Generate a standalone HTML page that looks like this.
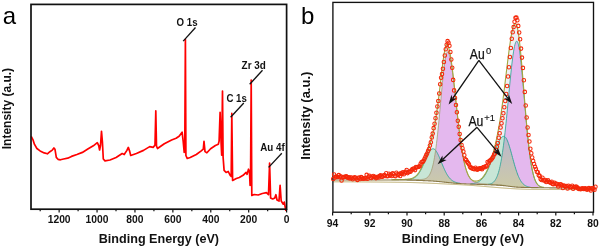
<!DOCTYPE html>
<html><head><meta charset="utf-8"><style>
html,body{margin:0;padding:0;background:#fff;width:600px;height:247px;overflow:hidden}
svg{display:block;will-change:transform}
text{font-family:"Liberation Sans",sans-serif}
</style></head><body>
<svg width="600" height="247" viewBox="0 0 600 247">
<!-- panel a -->
<text x="2.7" y="23.6" font-size="24">a</text>
<path d="M31.2,136.3 L32.9,139.6 L34.5,144.4 L36.9,148.5 L40.1,150.9 L44.2,152.9 L47.4,153.8 L49.9,151.7 L52.3,150.1 L53.9,148 L55,149.3 L56.3,157.4 L58,159.3 L60.4,159.8 L63.6,159 L67.7,158.2 L71.5,156.4 L76.9,154.5 L82.4,152.4 L87.8,149.1 L93.3,145.8 L97.3,142.7 L98.7,145.5 L99.6,150 L100.5,145.5 L101.5,131.3 L102.4,141.8 L103.3,159 L105,160.9 L110,160 L116.1,157.5 L122.2,153.5 L124.2,154.5 L126.9,150.4 L128.3,147.4 L129.7,151.4 L130.7,155.5 L136.4,153.5 L143.5,150.4 L149.7,146.6 L153.3,147.3 L155,144.9 L155.8,110.9 L156.5,146.1 L157.5,148.5 L164.3,143.7 L171.6,140 L176.1,138.3 L179.1,136.3 L182.1,132.2 L183.2,141.3 L184.2,152.4 L184.8,145.4 L185.4,39.5 L185.9,155.5 L187.2,158.5 L190.2,157.5 L196.3,154.5 L200.9,151.1 L203.3,149.1 L204,141.4 L205,151.6 L206.9,152.8 L210.6,148.7 L215.4,145.5 L218.3,144.3 L219.1,141.1 L220.1,112.4 L221.1,143.1 L221.7,155.2 L222.5,91.1 L223.1,157.3 L224.1,170.4 L226.1,172.4 L228.2,171.4 L230.2,175.5 L231.2,176.5 L231.8,113.4 L232.6,180.5 L236.3,178.5 L239.3,177.5 L243.1,175.3 L246.1,172.3 L247.1,174.3 L248.5,169.2 L249.5,172.3 L250.1,185.4 L250.6,172 L251.2,80.1 L251.8,195.5 L254.2,194.5 L258.2,195 L262.3,193.5 L266.4,192.6 L268.5,194.7 L269.6,163 L270.6,197.9 L272.7,199 L274.8,197.9 L275.9,194.7 L277,200 L279,201 L280.1,185.3 L281.2,201 L283.3,204.2 L284.3,202.1 L285.4,208.4 L286,211" fill="none" stroke="#f00" stroke-width="1.7" stroke-linejoin="round"/>
<rect x="31" y="4.4" width="255.6" height="204.8" fill="none" stroke="#111" stroke-width="1.7"/>
<g stroke="#111" stroke-width="1.2"><line x1="286.6" y1="209" x2="286.6" y2="212.6"/><line x1="267.65" y1="209" x2="267.65" y2="211.2"/><line x1="248.69" y1="209" x2="248.69" y2="212.6"/><line x1="229.74" y1="209" x2="229.74" y2="211.2"/><line x1="210.78" y1="209" x2="210.78" y2="212.6"/><line x1="191.83" y1="209" x2="191.83" y2="211.2"/><line x1="172.87" y1="209" x2="172.87" y2="212.6"/><line x1="153.92" y1="209" x2="153.92" y2="211.2"/><line x1="134.96" y1="209" x2="134.96" y2="212.6"/><line x1="116.01" y1="209" x2="116.01" y2="211.2"/><line x1="97.05" y1="209" x2="97.05" y2="212.6"/><line x1="78.1" y1="209" x2="78.1" y2="211.2"/><line x1="59.14" y1="209" x2="59.14" y2="212.6"/><line x1="40.19" y1="209" x2="40.19" y2="211.2"/></g>
<g font-size="10.3" font-weight="bold" text-anchor="middle" fill="#111"><text x="286.6" y="222.6">0</text><text x="248.69" y="222.6">200</text><text x="210.78" y="222.6">400</text><text x="172.87" y="222.6">600</text><text x="134.96" y="222.6">800</text><text x="97.05" y="222.6">1000</text><text x="59.14" y="222.6">1200</text></g>
<text x="158.9" y="243.3" font-size="12.6" font-weight="bold" text-anchor="middle" fill="#111">Binding Energy (eV)</text>
<text transform="translate(10.9,108.6) rotate(-90)" font-size="12" font-weight="bold" text-anchor="middle" fill="#111">Intensity (a.u.)</text>
<g font-size="10.2" font-weight="bold" fill="#111" lengthAdjust="spacingAndGlyphs">
<text x="176.6" y="26.4" textLength="21" lengthAdjust="spacingAndGlyphs">O 1s</text>
<text x="241.6" y="68.8" textLength="24.2" lengthAdjust="spacingAndGlyphs">Zr 3d</text>
<text x="226.4" y="102.4" textLength="20.4" lengthAdjust="spacingAndGlyphs">C 1s</text>
<text x="260.3" y="150.7" textLength="24.4" lengthAdjust="spacingAndGlyphs">Au 4f</text>
</g>
<g stroke="#111" stroke-width="1.3">
<line x1="183.2" y1="41.1" x2="195.5" y2="27.5"/>
<line x1="249.7" y1="84.3" x2="262.5" y2="70.3"/>
<line x1="230.6" y1="117.3" x2="243.8" y2="103"/>
<line x1="268.6" y1="167.4" x2="281.8" y2="153.3"/>
</g>
<!-- panel b -->
<text x="300.9" y="23.6" font-size="24">b</text>
<path d="M391.5,179.7 L392,179.69 L392.5,179.69 L393,179.68 L393.5,179.67 L394,179.67 L394.5,179.66 L395,179.65 L395.5,179.64 L396,179.64 L396.5,179.63 L397,179.62 L397.5,179.61 L398,179.6 L398.5,179.59 L399,179.58 L399.5,179.57 L400,179.56 L400.5,179.55 L401,179.54 L401.5,179.53 L402,179.51 L402.5,179.5 L403,179.48 L403.5,179.47 L404,179.45 L404.5,179.43 L405,179.41 L405.5,179.38 L406,179.35 L406.5,179.32 L407,179.28 L407.5,179.23 L408,179.17 L408.5,179.11 L409,179.04 L409.5,178.95 L410,178.86 L410.5,178.74 L411,178.61 L411.5,178.46 L412,178.29 L412.5,178.1 L413,177.88 L413.5,177.63 L414,177.35 L414.5,177.04 L415,176.68 L415.5,176.29 L416,175.86 L416.5,175.38 L417,174.85 L417.5,174.28 L418,173.65 L418.5,172.97 L419,172.24 L419.5,171.45 L420,170.6 L420.5,169.7 L421,168.74 L421.5,167.72 L422,166.66 L422.5,165.54 L423,164.37 L423.5,163.15 L424,161.89 L424.5,160.59 L425,159.25 L425.5,157.87 L426,156.46 L426.5,155.02 L427,153.54 L427.5,152.04 L428,150.51 L428.5,148.95 L429,147.35 L429.5,145.72 L430,144.04 L430.5,142.32 L431,140.53 L431.5,138.68 L432,136.76 L432.5,134.74 L433,132.62 L433.5,130.38 L434,128.01 L434.5,125.49 L435,122.81 L435.5,119.97 L436,116.94 L436.5,113.74 L437,110.34 L437.5,106.77 L438,103.02 L438.5,99.1 L439,95.05 L439.5,90.87 L440,86.6 L440.5,82.27 L441,77.94 L441.5,73.64 L442,69.42 L442.5,65.34 L443,61.46 L443.5,57.83 L444,54.53 L444.5,51.6 L445,49.1 L445.5,47.09 L446,45.62 L446.5,44.73 L447,44.44 L447.5,44.77 L448,45.67 L448.5,46.97 L449,48.68 L449.5,50.76 L450,53.22 L450.5,56.02 L451,59.15 L451.5,62.58 L452,66.28 L452.5,70.22 L453,74.36 L453.5,78.68 L454,83.14 L454.5,87.71 L455,92.35 L455.5,97.03 L456,101.73 L456.5,106.4 L457,111.04 L457.5,115.6 L458,120.07 L458.5,124.42 L459,128.64 L459.5,132.72 L460,136.63 L460.5,140.36 L461,143.92 L461.5,147.29 L462,150.46 L462.5,153.45 L463,156.23 L463.5,158.83 L464,161.24 L464.5,163.47 L465,165.51 L465.5,167.39 L466,169.1 L466.5,170.66 L467,172.06 L467.5,173.33 L468,174.47 L468.5,175.49 L469,176.4 L469.5,177.2 L470,177.9 L470.5,178.52 L471,179.06 L471.5,179.52 L472,179.91 L472.5,180.24 L473,180.51 L473.5,180.72 L474,180.89 L474.5,181.01 L475,181.09 L475.5,181.12 L476,181.12 L476.5,181.07 L477,180.99 L477.5,180.87 L478,180.72 L478.5,180.52 L479,180.29 L479.5,180.02 L480,179.71 L480.5,179.36 L481,178.97 L481.5,178.53 L482,178.05 L482.5,177.53 L483,176.95 L483.5,176.33 L484,175.65 L484.5,174.92 L485,174.14 L485.5,173.3 L486,172.41 L486.5,171.46 L487,170.45 L487.5,169.38 L488,168.25 L488.5,167.06 L489,165.81 L489.5,164.5 L490,163.12 L490.5,161.68 L491,160.18 L491.5,158.61 L492,156.98 L492.5,155.28 L493,153.52 L493.5,151.68 L494,149.78 L494.5,147.8 L495,145.74 L495.5,143.61 L496,141.4 L496.5,139.1 L497,136.71 L497.5,134.22 L498,131.64 L498.5,128.95 L499,126.16 L499.5,123.25 L500,120.22 L500.5,117.07 L501,113.8 L501.5,110.4 L502,106.88 L502.5,103.23 L503,99.45 L503.5,95.55 L504,91.54 L504.5,87.45 L505,83.33 L505.5,79.18 L506,75.03 L506.5,70.89 L507,66.78 L507.5,62.7 L508,58.69 L508.5,54.76 L509,50.94 L509.5,47.26 L510,43.74 L510.5,40.41 L511,37.3 L511.5,34.43 L512,31.84 L512.5,29.56 L513,27.61 L513.5,26.02 L514,24.81 L514.5,24 L515,23.61 L515.5,23.65 L516,24.14 L516.5,25.08 L517,26.48 L517.5,28.43 L518,30.94 L518.5,33.99 L519,37.55 L519.5,41.6 L520,46.09 L520.5,50.99 L521,56.25 L521.5,61.83 L522,67.65 L522.5,73.68 L523,79.86 L523.5,86.12 L524,92.42 L524.5,98.71 L525,104.93 L525.5,111.04 L526,117.01 L526.5,122.78 L527,128.34 L527.5,133.65 L528,138.7 L528.5,143.47 L529,147.94 L529.5,152.12 L530,155.99 L530.5,159.56 L531,162.83 L531.5,165.82 L532,168.53 L532.5,170.97 L533,173.16 L533.5,175.12 L534,176.86 L534.5,178.4 L535,179.75 L535.5,180.93 L536,181.96 L536.5,182.85 L537,183.61 L537.5,184.27 L538,184.83 L538.5,185.31 L539,185.71 L539.5,186.05 L540,186.34 L540.5,186.58 L541,186.78 L541.5,186.94 L542,187.08 L542.5,187.19 L543,187.28 L543.5,187.36 L544,187.42 L544,187.75 L543.5,187.75 L543,187.74 L542.5,187.73 L542,187.73 L541.5,187.72 L541,187.71 L540.5,187.71 L540,187.7 L539.5,187.69 L539,187.69 L538.5,187.68 L538,187.67 L537.5,187.67 L537,187.66 L536.5,187.65 L536,187.65 L535.5,187.64 L535,187.63 L534.5,187.62 L534,187.62 L533.5,187.61 L533,187.6 L532.5,187.59 L532,187.58 L531.5,187.58 L531,187.57 L530.5,187.56 L530,187.55 L529.5,187.54 L529,187.53 L528.5,187.52 L528,187.51 L527.5,187.5 L527,187.49 L526.5,187.48 L526,187.47 L525.5,187.46 L525,187.44 L524.5,187.43 L524,187.42 L523.5,187.41 L523,187.39 L522.5,187.38 L522,187.36 L521.5,187.35 L521,187.33 L520.5,187.32 L520,187.3 L519.5,187.28 L519,187.26 L518.5,187.23 L518,187.2 L517.5,187.17 L517,187.13 L516.5,187.09 L516,187.05 L515.5,187 L515,186.95 L514.5,186.9 L514,186.85 L513.5,186.79 L513,186.74 L512.5,186.68 L512,186.62 L511.5,186.56 L511,186.5 L510.5,186.44 L510,186.37 L509.5,186.31 L509,186.25 L508.5,186.18 L508,186.12 L507.5,186.06 L507,186 L506.5,185.93 L506,185.87 L505.5,185.81 L505,185.76 L504.5,185.7 L504,185.65 L503.5,185.59 L503,185.54 L502.5,185.5 L502,185.45 L501.5,185.41 L501,185.37 L500.5,185.33 L500,185.3 L499.5,185.27 L499,185.24 L498.5,185.21 L498,185.18 L497.5,185.15 L497,185.12 L496.5,185.1 L496,185.07 L495.5,185.05 L495,185.02 L494.5,185 L494,184.97 L493.5,184.95 L493,184.92 L492.5,184.9 L492,184.88 L491.5,184.86 L491,184.84 L490.5,184.81 L490,184.79 L489.5,184.77 L489,184.75 L488.5,184.73 L488,184.71 L487.5,184.69 L487,184.68 L486.5,184.66 L486,184.64 L485.5,184.62 L485,184.6 L484.5,184.58 L484,184.57 L483.5,184.55 L483,184.53 L482.5,184.52 L482,184.5 L481.5,184.48 L481,184.46 L480.5,184.45 L480,184.43 L479.5,184.41 L479,184.4 L478.5,184.38 L478,184.36 L477.5,184.35 L477,184.33 L476.5,184.31 L476,184.3 L475.5,184.28 L475,184.26 L474.5,184.25 L474,184.23 L473.5,184.21 L473,184.19 L472.5,184.17 L472,184.16 L471.5,184.14 L471,184.12 L470.5,184.1 L470,184.08 L469.5,184.06 L469,184.04 L468.5,184.02 L468,184 L467.5,183.98 L467,183.95 L466.5,183.93 L466,183.91 L465.5,183.89 L465,183.86 L464.5,183.84 L464,183.82 L463.5,183.79 L463,183.77 L462.5,183.74 L462,183.71 L461.5,183.69 L461,183.66 L460.5,183.63 L460,183.6 L459.5,183.57 L459,183.54 L458.5,183.5 L458,183.47 L457.5,183.43 L457,183.39 L456.5,183.35 L456,183.31 L455.5,183.27 L455,183.23 L454.5,183.18 L454,183.14 L453.5,183.09 L453,183.04 L452.5,182.99 L452,182.94 L451.5,182.89 L451,182.84 L450.5,182.79 L450,182.74 L449.5,182.69 L449,182.63 L448.5,182.58 L448,182.53 L447.5,182.47 L447,182.42 L446.5,182.36 L446,182.31 L445.5,182.25 L445,182.2 L444.5,182.14 L444,182.09 L443.5,182.04 L443,181.98 L442.5,181.93 L442,181.88 L441.5,181.82 L441,181.77 L440.5,181.72 L440,181.67 L439.5,181.62 L439,181.57 L438.5,181.52 L438,181.48 L437.5,181.43 L437,181.38 L436.5,181.34 L436,181.3 L435.5,181.26 L435,181.22 L434.5,181.18 L434,181.14 L433.5,181.1 L433,181.07 L432.5,181.04 L432,181.01 L431.5,180.98 L431,180.95 L430.5,180.92 L430,180.9 L429.5,180.88 L429,180.86 L428.5,180.83 L428,180.81 L427.5,180.79 L427,180.77 L426.5,180.74 L426,180.72 L425.5,180.7 L425,180.68 L424.5,180.66 L424,180.63 L423.5,180.61 L423,180.59 L422.5,180.57 L422,180.55 L421.5,180.53 L421,180.51 L420.5,180.49 L420,180.47 L419.5,180.45 L419,180.43 L418.5,180.41 L418,180.39 L417.5,180.37 L417,180.35 L416.5,180.33 L416,180.32 L415.5,180.3 L415,180.28 L414.5,180.26 L414,180.25 L413.5,180.23 L413,180.22 L412.5,180.2 L412,180.19 L411.5,180.17 L411,180.16 L410.5,180.15 L410,180.13 L409.5,180.12 L409,180.11 L408.5,180.1 L408,180.09 L407.5,180.08 L407,180.07 L406.5,180.06 L406,180.05 L405.5,180.04 L405,180.04 L404.5,180.03 L404,180.02 L403.5,180.02 L403,180.01 L402.5,180.01 L402,180.01 L401.5,180 L401,180 L400.5,180 L400,180 L399.5,180 L399,180 L398.5,180 L398,180 L397.5,180 L397,180 L396.5,180 L396,180 L395.5,180 L395,180 L394.5,180 L394,180 L393.5,180 L393,180 L392.5,180 L392,180 L391.5,180Z" fill="#eef0f4"/>
<path d="M406,179.74 L406.5,179.72 L407,179.69 L407.5,179.65 L408,179.61 L408.5,179.56 L409,179.49 L409.5,179.42 L410,179.33 L410.5,179.23 L411,179.12 L411.5,178.98 L412,178.82 L412.5,178.65 L413,178.44 L413.5,178.21 L414,177.94 L414.5,177.65 L415,177.31 L415.5,176.94 L416,176.53 L416.5,176.07 L417,175.57 L417.5,175.02 L418,174.42 L418.5,173.77 L419,173.07 L419.5,172.31 L420,171.5 L420.5,170.65 L421,169.74 L421.5,168.79 L422,167.79 L422.5,166.75 L423,165.67 L423.5,164.57 L424,163.43 L424.5,162.29 L425,161.13 L425.5,159.97 L426,158.81 L426.5,157.68 L427,156.57 L427.5,155.49 L428,154.46 L428.5,153.49 L429,152.58 L429.5,151.75 L430,151.01 L430.5,150.36 L431,149.81 L431.5,149.38 L432,149.06 L432.5,148.86 L433,148.78 L433.5,148.83 L434,149 L434.5,149.29 L435,149.7 L435.5,150.23 L436,150.86 L436.5,151.6 L437,152.42 L437.5,153.34 L438,154.33 L438.5,155.38 L439,156.49 L439.5,157.64 L440,158.83 L440.5,160.05 L441,161.28 L441.5,162.51 L442,163.74 L442.5,164.96 L443,166.16 L443.5,167.34 L444,168.48 L444.5,169.59 L445,170.66 L445.5,171.68 L446,172.65 L446.5,173.57 L447,174.44 L447.5,175.26 L448,176.02 L448.5,176.74 L449,177.4 L449.5,178.01 L450,178.58 L450.5,179.09 L451,179.57 L451.5,180 L452,180.39 L452.5,180.75 L453,181.07 L453.5,181.36 L454,181.62 L454.5,181.86 L455,182.07 L455.5,182.26 L456,182.42 L456.5,182.58 L457,182.71 L457.5,182.83 L458,182.94 L458.5,183.04 L459,183.12 L459.5,183.2 L460,183.27 L460,183.6 L459.5,183.57 L459,183.54 L458.5,183.5 L458,183.47 L457.5,183.43 L457,183.39 L456.5,183.35 L456,183.31 L455.5,183.27 L455,183.23 L454.5,183.18 L454,183.14 L453.5,183.09 L453,183.04 L452.5,182.99 L452,182.94 L451.5,182.89 L451,182.84 L450.5,182.79 L450,182.74 L449.5,182.69 L449,182.63 L448.5,182.58 L448,182.53 L447.5,182.47 L447,182.42 L446.5,182.36 L446,182.31 L445.5,182.25 L445,182.2 L444.5,182.14 L444,182.09 L443.5,182.04 L443,181.98 L442.5,181.93 L442,181.88 L441.5,181.82 L441,181.77 L440.5,181.72 L440,181.67 L439.5,181.62 L439,181.57 L438.5,181.52 L438,181.48 L437.5,181.43 L437,181.38 L436.5,181.34 L436,181.3 L435.5,181.26 L435,181.22 L434.5,181.18 L434,181.14 L433.5,181.1 L433,181.07 L432.5,181.04 L432,181.01 L431.5,180.98 L431,180.95 L430.5,180.92 L430,180.9 L429.5,180.88 L429,180.86 L428.5,180.83 L428,180.81 L427.5,180.79 L427,180.77 L426.5,180.74 L426,180.72 L425.5,180.7 L425,180.68 L424.5,180.66 L424,180.63 L423.5,180.61 L423,180.59 L422.5,180.57 L422,180.55 L421.5,180.53 L421,180.51 L420.5,180.49 L420,180.47 L419.5,180.45 L419,180.43 L418.5,180.41 L418,180.39 L417.5,180.37 L417,180.35 L416.5,180.33 L416,180.32 L415.5,180.3 L415,180.28 L414.5,180.26 L414,180.25 L413.5,180.23 L413,180.22 L412.5,180.2 L412,180.19 L411.5,180.17 L411,180.16 L410.5,180.15 L410,180.13 L409.5,180.12 L409,180.11 L408.5,180.1 L408,180.09 L407.5,180.08 L407,180.07 L406.5,180.06 L406,180.05Z" fill="#c8e6d6"/>
<path d="M470.5,183.79 L471,183.76 L471.5,183.73 L472,183.68 L472.5,183.63 L473,183.56 L473.5,183.48 L474,183.4 L474.5,183.29 L475,183.18 L475.5,183.04 L476,182.89 L476.5,182.72 L477,182.52 L477.5,182.31 L478,182.07 L478.5,181.8 L479,181.5 L479.5,181.17 L480,180.81 L480.5,180.42 L481,179.99 L481.5,179.52 L482,179.01 L482.5,178.46 L483,177.86 L483.5,177.22 L484,176.53 L484.5,175.8 L485,175.01 L485.5,174.18 L486,173.3 L486.5,172.36 L487,171.38 L487.5,170.35 L488,169.27 L488.5,168.15 L489,166.98 L489.5,165.77 L490,164.53 L490.5,163.24 L491,161.93 L491.5,160.59 L492,159.22 L492.5,157.84 L493,156.44 L493.5,155.05 L494,153.65 L494.5,152.25 L495,150.88 L495.5,149.52 L496,148.19 L496.5,146.9 L497,145.65 L497.5,144.45 L498,143.31 L498.5,142.23 L499,141.22 L499.5,140.29 L500,139.45 L500.5,138.7 L501,138.04 L501.5,137.49 L502,137.04 L502.5,136.7 L503,136.47 L503.5,136.35 L504,136.35 L504.5,136.49 L505,136.81 L505.5,137.31 L506,137.98 L506.5,138.82 L507,139.81 L507.5,140.95 L508,142.23 L508.5,143.62 L509,145.13 L509.5,146.73 L510,148.41 L510.5,150.16 L511,151.95 L511.5,153.78 L512,155.64 L512.5,157.5 L513,159.35 L513.5,161.19 L514,162.99 L514.5,164.75 L515,166.47 L515.5,168.12 L516,169.71 L516.5,171.23 L517,172.67 L517.5,174.03 L518,175.32 L518.5,176.51 L519,177.63 L519.5,178.66 L520,179.61 L520.5,180.48 L521,181.28 L521.5,182.01 L522,182.67 L522.5,183.27 L523,183.8 L523.5,184.28 L524,184.71 L524.5,185.1 L525,185.44 L525.5,185.73 L526,186 L526.5,186.23 L527,186.43 L527.5,186.6 L528,186.76 L528.5,186.89 L529,187 L529.5,187.1 L530,187.18 L530.5,187.26 L530.5,187.56 L530,187.55 L529.5,187.54 L529,187.53 L528.5,187.52 L528,187.51 L527.5,187.5 L527,187.49 L526.5,187.48 L526,187.47 L525.5,187.46 L525,187.44 L524.5,187.43 L524,187.42 L523.5,187.41 L523,187.39 L522.5,187.38 L522,187.36 L521.5,187.35 L521,187.33 L520.5,187.32 L520,187.3 L519.5,187.28 L519,187.26 L518.5,187.23 L518,187.2 L517.5,187.17 L517,187.13 L516.5,187.09 L516,187.05 L515.5,187 L515,186.95 L514.5,186.9 L514,186.85 L513.5,186.79 L513,186.74 L512.5,186.68 L512,186.62 L511.5,186.56 L511,186.5 L510.5,186.44 L510,186.37 L509.5,186.31 L509,186.25 L508.5,186.18 L508,186.12 L507.5,186.06 L507,186 L506.5,185.93 L506,185.87 L505.5,185.81 L505,185.76 L504.5,185.7 L504,185.65 L503.5,185.59 L503,185.54 L502.5,185.5 L502,185.45 L501.5,185.41 L501,185.37 L500.5,185.33 L500,185.3 L499.5,185.27 L499,185.24 L498.5,185.21 L498,185.18 L497.5,185.15 L497,185.12 L496.5,185.1 L496,185.07 L495.5,185.05 L495,185.02 L494.5,185 L494,184.97 L493.5,184.95 L493,184.92 L492.5,184.9 L492,184.88 L491.5,184.86 L491,184.84 L490.5,184.81 L490,184.79 L489.5,184.77 L489,184.75 L488.5,184.73 L488,184.71 L487.5,184.69 L487,184.68 L486.5,184.66 L486,184.64 L485.5,184.62 L485,184.6 L484.5,184.58 L484,184.57 L483.5,184.55 L483,184.53 L482.5,184.52 L482,184.5 L481.5,184.48 L481,184.46 L480.5,184.45 L480,184.43 L479.5,184.41 L479,184.4 L478.5,184.38 L478,184.36 L477.5,184.35 L477,184.33 L476.5,184.31 L476,184.3 L475.5,184.28 L475,184.26 L474.5,184.25 L474,184.23 L473.5,184.21 L473,184.19 L472.5,184.17 L472,184.16 L471.5,184.14 L471,184.12 L470.5,184.1Z" fill="#c8e6d6"/>
<path d="M400,179.7 L400.5,179.69 L401,179.68 L401.5,179.68 L402,179.68 L402.5,179.67 L403,179.67 L403.5,179.67 L404,179.66 L404.5,179.66 L405,179.66 L405.5,179.66 L406,179.66 L406.5,179.66 L407,179.65 L407.5,179.65 L408,179.65 L408.5,179.65 L409,179.65 L409.5,179.65 L410,179.65 L410.5,179.65 L411,179.66 L411.5,179.66 L412,179.66 L412.5,179.66 L413,179.66 L413.5,179.66 L414,179.65 L414.5,179.65 L415,179.65 L415.5,179.65 L416,179.65 L416.5,179.64 L417,179.64 L417.5,179.63 L418,179.62 L418.5,179.61 L419,179.6 L419.5,179.58 L420,179.56 L420.5,179.54 L421,179.5 L421.5,179.47 L422,179.42 L422.5,179.36 L423,179.29 L423.5,179.2 L424,179.09 L424.5,178.96 L425,178.8 L425.5,178.6 L426,178.37 L426.5,178.08 L427,177.74 L427.5,177.34 L428,176.86 L428.5,176.29 L429,175.62 L429.5,174.84 L430,173.93 L430.5,172.88 L431,171.67 L431.5,170.28 L432,168.71 L432.5,166.92 L433,164.91 L433.5,162.66 L434,160.15 L434.5,157.38 L435,154.33 L435.5,151 L436,147.38 L436.5,143.48 L437,139.3 L437.5,134.86 L438,130.17 L438.5,125.25 L439,120.13 L439.5,114.84 L440,109.43 L440.5,103.95 L441,98.43 L441.5,92.95 L442,87.55 L442.5,82.31 L443,77.28 L443.5,72.53 L444,68.13 L444.5,64.15 L445,60.65 L445.5,57.67 L446,55.28 L446.5,53.52 L447,52.41 L447.5,51.99 L448,52.17 L448.5,52.82 L449,53.91 L449.5,55.44 L450,57.38 L450.5,59.72 L451,62.43 L451.5,65.47 L452,68.83 L452.5,72.46 L453,76.34 L453.5,80.41 L454,84.66 L454.5,89.03 L455,93.51 L455.5,98.05 L456,102.62 L456.5,107.18 L457,111.72 L457.5,116.2 L458,120.6 L458.5,124.89 L459,129.06 L459.5,133.09 L460,136.97 L460.5,140.67 L461,144.2 L461.5,147.55 L462,150.71 L462.5,153.68 L463,156.45 L463.5,159.04 L464,161.45 L464.5,163.67 L465,165.72 L465.5,167.59 L466,169.31 L466.5,170.87 L467,172.29 L467.5,173.57 L468,174.73 L468.5,175.77 L469,176.7 L469.5,177.53 L470,178.27 L470.5,178.93 L471,179.51 L471.5,180.02 L472,180.48 L472.5,180.88 L473,181.23 L473.5,181.54 L474,181.81 L474.5,182.05 L475,182.26 L475.5,182.44 L476,182.61 L476.5,182.75 L477,182.88 L477.5,182.99 L478,183.09 L478.5,183.18 L479,183.26 L479.5,183.34 L480,183.4 L480.5,183.47 L481,183.52 L481.5,183.58 L482,183.63 L482.5,183.67 L483,183.72 L483.5,183.76 L484,183.8 L484.5,183.84 L485,183.88 L485.5,183.92 L486,183.95 L486.5,183.99 L487,184.03 L487.5,184.06 L488,184.09 L488.5,184.13 L489,184.16 L489.5,184.2 L490,184.23 L490.5,184.26 L491,184.3 L491.5,184.33 L492,184.36 L492.5,184.4 L493,184.43 L493.5,184.46 L494,184.5 L494.5,184.53 L495,184.56 L495.5,184.6 L496,184.63 L496.5,184.67 L497,184.7 L497.5,184.74 L498,184.78 L498.5,184.81 L499,184.85 L499.5,184.89 L500,184.92 L500.5,184.96 L501,185.01 L501.5,185.05 L502,185.1 L502.5,185.15 L503,185.21 L503.5,185.26 L504,185.32 L504.5,185.38 L505,185.44 L505.5,185.5 L506,185.57 L506,185.87 L505.5,185.81 L505,185.76 L504.5,185.7 L504,185.65 L503.5,185.59 L503,185.54 L502.5,185.5 L502,185.45 L501.5,185.41 L501,185.37 L500.5,185.33 L500,185.3 L499.5,185.27 L499,185.24 L498.5,185.21 L498,185.18 L497.5,185.15 L497,185.12 L496.5,185.1 L496,185.07 L495.5,185.05 L495,185.02 L494.5,185 L494,184.97 L493.5,184.95 L493,184.92 L492.5,184.9 L492,184.88 L491.5,184.86 L491,184.84 L490.5,184.81 L490,184.79 L489.5,184.77 L489,184.75 L488.5,184.73 L488,184.71 L487.5,184.69 L487,184.68 L486.5,184.66 L486,184.64 L485.5,184.62 L485,184.6 L484.5,184.58 L484,184.57 L483.5,184.55 L483,184.53 L482.5,184.52 L482,184.5 L481.5,184.48 L481,184.46 L480.5,184.45 L480,184.43 L479.5,184.41 L479,184.4 L478.5,184.38 L478,184.36 L477.5,184.35 L477,184.33 L476.5,184.31 L476,184.3 L475.5,184.28 L475,184.26 L474.5,184.25 L474,184.23 L473.5,184.21 L473,184.19 L472.5,184.17 L472,184.16 L471.5,184.14 L471,184.12 L470.5,184.1 L470,184.08 L469.5,184.06 L469,184.04 L468.5,184.02 L468,184 L467.5,183.98 L467,183.95 L466.5,183.93 L466,183.91 L465.5,183.89 L465,183.86 L464.5,183.84 L464,183.82 L463.5,183.79 L463,183.77 L462.5,183.74 L462,183.71 L461.5,183.69 L461,183.66 L460.5,183.63 L460,183.6 L459.5,183.57 L459,183.54 L458.5,183.5 L458,183.47 L457.5,183.43 L457,183.39 L456.5,183.35 L456,183.31 L455.5,183.27 L455,183.23 L454.5,183.18 L454,183.14 L453.5,183.09 L453,183.04 L452.5,182.99 L452,182.94 L451.5,182.89 L451,182.84 L450.5,182.79 L450,182.74 L449.5,182.69 L449,182.63 L448.5,182.58 L448,182.53 L447.5,182.47 L447,182.42 L446.5,182.36 L446,182.31 L445.5,182.25 L445,182.2 L444.5,182.14 L444,182.09 L443.5,182.04 L443,181.98 L442.5,181.93 L442,181.88 L441.5,181.82 L441,181.77 L440.5,181.72 L440,181.67 L439.5,181.62 L439,181.57 L438.5,181.52 L438,181.48 L437.5,181.43 L437,181.38 L436.5,181.34 L436,181.3 L435.5,181.26 L435,181.22 L434.5,181.18 L434,181.14 L433.5,181.1 L433,181.07 L432.5,181.04 L432,181.01 L431.5,180.98 L431,180.95 L430.5,180.92 L430,180.9 L429.5,180.88 L429,180.86 L428.5,180.83 L428,180.81 L427.5,180.79 L427,180.77 L426.5,180.74 L426,180.72 L425.5,180.7 L425,180.68 L424.5,180.66 L424,180.63 L423.5,180.61 L423,180.59 L422.5,180.57 L422,180.55 L421.5,180.53 L421,180.51 L420.5,180.49 L420,180.47 L419.5,180.45 L419,180.43 L418.5,180.41 L418,180.39 L417.5,180.37 L417,180.35 L416.5,180.33 L416,180.32 L415.5,180.3 L415,180.28 L414.5,180.26 L414,180.25 L413.5,180.23 L413,180.22 L412.5,180.2 L412,180.19 L411.5,180.17 L411,180.16 L410.5,180.15 L410,180.13 L409.5,180.12 L409,180.11 L408.5,180.1 L408,180.09 L407.5,180.08 L407,180.07 L406.5,180.06 L406,180.05 L405.5,180.04 L405,180.04 L404.5,180.03 L404,180.02 L403.5,180.02 L403,180.01 L402.5,180.01 L402,180.01 L401.5,180 L401,180 L400.5,180 L400,180Z" fill="#e4b8ee"/>
<path d="M488,184.36 L488.5,184.3 L489,184.22 L489.5,184.12 L490,184 L490.5,183.85 L491,183.67 L491.5,183.45 L492,183.2 L492.5,182.89 L493,182.53 L493.5,182.11 L494,181.62 L494.5,181.04 L495,180.38 L495.5,179.62 L496,178.75 L496.5,177.76 L497,176.64 L497.5,175.37 L498,173.95 L498.5,172.36 L499,170.6 L499.5,168.64 L500,166.48 L500.5,164.11 L501,161.52 L501.5,158.71 L502,155.67 L502.5,152.4 L503,148.89 L503.5,145.16 L504,141.19 L504.5,137.01 L505,132.61 L505.5,128.02 L506,123.26 L506.5,118.33 L507,113.28 L507.5,108.12 L508,102.89 L508.5,97.63 L509,92.36 L509.5,87.14 L510,82 L510.5,76.98 L511,72.13 L511.5,67.49 L512,63.1 L512.5,59.01 L513,55.26 L513.5,51.89 L514,48.92 L514.5,46.4 L515,44.35 L515.5,42.78 L516,41.72 L516.5,41.19 L517,41.18 L517.5,41.8 L518,43.06 L518.5,44.93 L519,47.41 L519.5,50.44 L520,54 L520.5,58.04 L521,62.52 L521.5,67.38 L522,72.56 L522.5,78 L523,83.65 L523.5,89.44 L524,95.32 L524.5,101.24 L525,107.13 L525.5,112.96 L526,118.66 L526.5,124.22 L527,129.58 L527.5,134.73 L528,139.64 L528.5,144.28 L529,148.65 L529.5,152.73 L530,156.52 L530.5,160.03 L531,163.25 L531.5,166.19 L532,168.86 L532.5,171.27 L533,173.43 L533.5,175.37 L534,177.09 L534.5,178.61 L535,179.95 L535.5,181.12 L536,182.13 L536.5,183.02 L537,183.78 L537.5,184.43 L538,184.99 L538.5,185.46 L539,185.86 L539.5,186.2 L540,186.48 L540.5,186.72 L541,186.91 L541.5,187.08 L542,187.21 L542.5,187.32 L543,187.41 L543,187.74 L542.5,187.73 L542,187.73 L541.5,187.72 L541,187.71 L540.5,187.71 L540,187.7 L539.5,187.69 L539,187.69 L538.5,187.68 L538,187.67 L537.5,187.67 L537,187.66 L536.5,187.65 L536,187.65 L535.5,187.64 L535,187.63 L534.5,187.62 L534,187.62 L533.5,187.61 L533,187.6 L532.5,187.59 L532,187.58 L531.5,187.58 L531,187.57 L530.5,187.56 L530,187.55 L529.5,187.54 L529,187.53 L528.5,187.52 L528,187.51 L527.5,187.5 L527,187.49 L526.5,187.48 L526,187.47 L525.5,187.46 L525,187.44 L524.5,187.43 L524,187.42 L523.5,187.41 L523,187.39 L522.5,187.38 L522,187.36 L521.5,187.35 L521,187.33 L520.5,187.32 L520,187.3 L519.5,187.28 L519,187.26 L518.5,187.23 L518,187.2 L517.5,187.17 L517,187.13 L516.5,187.09 L516,187.05 L515.5,187 L515,186.95 L514.5,186.9 L514,186.85 L513.5,186.79 L513,186.74 L512.5,186.68 L512,186.62 L511.5,186.56 L511,186.5 L510.5,186.44 L510,186.37 L509.5,186.31 L509,186.25 L508.5,186.18 L508,186.12 L507.5,186.06 L507,186 L506.5,185.93 L506,185.87 L505.5,185.81 L505,185.76 L504.5,185.7 L504,185.65 L503.5,185.59 L503,185.54 L502.5,185.5 L502,185.45 L501.5,185.41 L501,185.37 L500.5,185.33 L500,185.3 L499.5,185.27 L499,185.24 L498.5,185.21 L498,185.18 L497.5,185.15 L497,185.12 L496.5,185.1 L496,185.07 L495.5,185.05 L495,185.02 L494.5,185 L494,184.97 L493.5,184.95 L493,184.92 L492.5,184.9 L492,184.88 L491.5,184.86 L491,184.84 L490.5,184.81 L490,184.79 L489.5,184.77 L489,184.75 L488.5,184.73 L488,184.71Z" fill="#e4b8ee"/>
<defs><linearGradient id="ov" gradientUnits="userSpaceOnUse" x1="0" y1="140" x2="0" y2="186"><stop offset="0" stop-color="#bcb8cc"/><stop offset="1" stop-color="#cccaa8"/></linearGradient></defs>
<path d="M406,179.74 L406.5,179.72 L407,179.69 L407.5,179.65 L408,179.65 L408.5,179.65 L409,179.65 L409.5,179.65 L410,179.65 L410.5,179.65 L411,179.66 L411.5,179.66 L412,179.66 L412.5,179.66 L413,179.66 L413.5,179.66 L414,179.65 L414.5,179.65 L415,179.65 L415.5,179.65 L416,179.65 L416.5,179.64 L417,179.64 L417.5,179.63 L418,179.62 L418.5,179.61 L419,179.6 L419.5,179.58 L420,179.56 L420.5,179.54 L421,179.5 L421.5,179.47 L422,179.42 L422.5,179.36 L423,179.29 L423.5,179.2 L424,179.09 L424.5,178.96 L425,178.8 L425.5,178.6 L426,178.37 L426.5,178.08 L427,177.74 L427.5,177.34 L428,176.86 L428.5,176.29 L429,175.62 L429.5,174.84 L430,173.93 L430.5,172.88 L431,171.67 L431.5,170.28 L432,168.71 L432.5,166.92 L433,164.91 L433.5,162.66 L434,160.15 L434.5,157.38 L435,154.33 L435.5,151 L436,150.86 L436.5,151.6 L437,152.42 L437.5,153.34 L438,154.33 L438.5,155.38 L439,156.49 L439.5,157.64 L440,158.83 L440.5,160.05 L441,161.28 L441.5,162.51 L442,163.74 L442.5,164.96 L443,166.16 L443.5,167.34 L444,168.48 L444.5,169.59 L445,170.66 L445.5,171.68 L446,172.65 L446.5,173.57 L447,174.44 L447.5,175.26 L448,176.02 L448.5,176.74 L449,177.4 L449.5,178.01 L450,178.58 L450.5,179.09 L451,179.57 L451.5,180 L452,180.39 L452.5,180.75 L453,181.07 L453.5,181.36 L454,181.62 L454.5,181.86 L455,182.07 L455.5,182.26 L456,182.42 L456.5,182.58 L457,182.71 L457.5,182.83 L458,182.94 L458.5,183.04 L459,183.12 L459.5,183.2 L460,183.27 L460,183.6 L459.5,183.57 L459,183.54 L458.5,183.5 L458,183.47 L457.5,183.43 L457,183.39 L456.5,183.35 L456,183.31 L455.5,183.27 L455,183.23 L454.5,183.18 L454,183.14 L453.5,183.09 L453,183.04 L452.5,182.99 L452,182.94 L451.5,182.89 L451,182.84 L450.5,182.79 L450,182.74 L449.5,182.69 L449,182.63 L448.5,182.58 L448,182.53 L447.5,182.47 L447,182.42 L446.5,182.36 L446,182.31 L445.5,182.25 L445,182.2 L444.5,182.14 L444,182.09 L443.5,182.04 L443,181.98 L442.5,181.93 L442,181.88 L441.5,181.82 L441,181.77 L440.5,181.72 L440,181.67 L439.5,181.62 L439,181.57 L438.5,181.52 L438,181.48 L437.5,181.43 L437,181.38 L436.5,181.34 L436,181.3 L435.5,181.26 L435,181.22 L434.5,181.18 L434,181.14 L433.5,181.1 L433,181.07 L432.5,181.04 L432,181.01 L431.5,180.98 L431,180.95 L430.5,180.92 L430,180.9 L429.5,180.88 L429,180.86 L428.5,180.83 L428,180.81 L427.5,180.79 L427,180.77 L426.5,180.74 L426,180.72 L425.5,180.7 L425,180.68 L424.5,180.66 L424,180.63 L423.5,180.61 L423,180.59 L422.5,180.57 L422,180.55 L421.5,180.53 L421,180.51 L420.5,180.49 L420,180.47 L419.5,180.45 L419,180.43 L418.5,180.41 L418,180.39 L417.5,180.37 L417,180.35 L416.5,180.33 L416,180.32 L415.5,180.3 L415,180.28 L414.5,180.26 L414,180.25 L413.5,180.23 L413,180.22 L412.5,180.2 L412,180.19 L411.5,180.17 L411,180.16 L410.5,180.15 L410,180.13 L409.5,180.12 L409,180.11 L408.5,180.1 L408,180.09 L407.5,180.08 L407,180.07 L406.5,180.06 L406,180.05Z" fill="url(#ov)"/>
<path d="M488,184.36 L488.5,184.3 L489,184.22 L489.5,184.12 L490,184 L490.5,183.85 L491,183.67 L491.5,183.45 L492,183.2 L492.5,182.89 L493,182.53 L493.5,182.11 L494,181.62 L494.5,181.04 L495,180.38 L495.5,179.62 L496,178.75 L496.5,177.76 L497,176.64 L497.5,175.37 L498,173.95 L498.5,172.36 L499,170.6 L499.5,168.64 L500,166.48 L500.5,164.11 L501,161.52 L501.5,158.71 L502,155.67 L502.5,152.4 L503,148.89 L503.5,145.16 L504,141.19 L504.5,137.01 L505,136.81 L505.5,137.31 L506,137.98 L506.5,138.82 L507,139.81 L507.5,140.95 L508,142.23 L508.5,143.62 L509,145.13 L509.5,146.73 L510,148.41 L510.5,150.16 L511,151.95 L511.5,153.78 L512,155.64 L512.5,157.5 L513,159.35 L513.5,161.19 L514,162.99 L514.5,164.75 L515,166.47 L515.5,168.12 L516,169.71 L516.5,171.23 L517,172.67 L517.5,174.03 L518,175.32 L518.5,176.51 L519,177.63 L519.5,178.66 L520,179.61 L520.5,180.48 L521,181.28 L521.5,182.01 L522,182.67 L522.5,183.27 L523,183.8 L523.5,184.28 L524,184.71 L524.5,185.1 L525,185.44 L525.5,185.73 L526,186 L526.5,186.23 L527,186.43 L527.5,186.6 L528,186.76 L528.5,186.89 L529,187 L529.5,187.1 L530,187.18 L530.5,187.26 L530.5,187.56 L530,187.55 L529.5,187.54 L529,187.53 L528.5,187.52 L528,187.51 L527.5,187.5 L527,187.49 L526.5,187.48 L526,187.47 L525.5,187.46 L525,187.44 L524.5,187.43 L524,187.42 L523.5,187.41 L523,187.39 L522.5,187.38 L522,187.36 L521.5,187.35 L521,187.33 L520.5,187.32 L520,187.3 L519.5,187.28 L519,187.26 L518.5,187.23 L518,187.2 L517.5,187.17 L517,187.13 L516.5,187.09 L516,187.05 L515.5,187 L515,186.95 L514.5,186.9 L514,186.85 L513.5,186.79 L513,186.74 L512.5,186.68 L512,186.62 L511.5,186.56 L511,186.5 L510.5,186.44 L510,186.37 L509.5,186.31 L509,186.25 L508.5,186.18 L508,186.12 L507.5,186.06 L507,186 L506.5,185.93 L506,185.87 L505.5,185.81 L505,185.76 L504.5,185.7 L504,185.65 L503.5,185.59 L503,185.54 L502.5,185.5 L502,185.45 L501.5,185.41 L501,185.37 L500.5,185.33 L500,185.3 L499.5,185.27 L499,185.24 L498.5,185.21 L498,185.18 L497.5,185.15 L497,185.12 L496.5,185.1 L496,185.07 L495.5,185.05 L495,185.02 L494.5,185 L494,184.97 L493.5,184.95 L493,184.92 L492.5,184.9 L492,184.88 L491.5,184.86 L491,184.84 L490.5,184.81 L490,184.79 L489.5,184.77 L489,184.75 L488.5,184.73 L488,184.71Z" fill="url(#ov)"/>
<path d="M406,179.74 L406.5,179.72 L407,179.69 L407.5,179.65 L408,179.61 L408.5,179.56 L409,179.49 L409.5,179.42 L410,179.33 L410.5,179.23 L411,179.12 L411.5,178.98 L412,178.82 L412.5,178.65 L413,178.44 L413.5,178.21 L414,177.94 L414.5,177.65 L415,177.31 L415.5,176.94 L416,176.53 L416.5,176.07 L417,175.57 L417.5,175.02 L418,174.42 L418.5,173.77 L419,173.07 L419.5,172.31 L420,171.5 L420.5,170.65 L421,169.74 L421.5,168.79 L422,167.79 L422.5,166.75 L423,165.67 L423.5,164.57 L424,163.43 L424.5,162.29 L425,161.13 L425.5,159.97 L426,158.81 L426.5,157.68 L427,156.57 L427.5,155.49 L428,154.46 L428.5,153.49 L429,152.58 L429.5,151.75 L430,151.01 L430.5,150.36 L431,149.81 L431.5,149.38 L432,149.06 L432.5,148.86 L433,148.78 L433.5,148.83 L434,149 L434.5,149.29 L435,149.7 L435.5,150.23 L436,150.86 L436.5,151.6 L437,152.42 L437.5,153.34 L438,154.33 L438.5,155.38 L439,156.49 L439.5,157.64 L440,158.83 L440.5,160.05 L441,161.28 L441.5,162.51 L442,163.74 L442.5,164.96 L443,166.16 L443.5,167.34 L444,168.48 L444.5,169.59 L445,170.66 L445.5,171.68 L446,172.65 L446.5,173.57 L447,174.44 L447.5,175.26 L448,176.02 L448.5,176.74 L449,177.4 L449.5,178.01 L450,178.58 L450.5,179.09 L451,179.57 L451.5,180 L452,180.39 L452.5,180.75 L453,181.07 L453.5,181.36 L454,181.62 L454.5,181.86 L455,182.07 L455.5,182.26 L456,182.42 L456.5,182.58 L457,182.71 L457.5,182.83 L458,182.94 L458.5,183.04 L459,183.12 L459.5,183.2 L460,183.27" fill="none" stroke="#3aa89a" stroke-width="1"/>
<path d="M470.5,183.79 L471,183.76 L471.5,183.73 L472,183.68 L472.5,183.63 L473,183.56 L473.5,183.48 L474,183.4 L474.5,183.29 L475,183.18 L475.5,183.04 L476,182.89 L476.5,182.72 L477,182.52 L477.5,182.31 L478,182.07 L478.5,181.8 L479,181.5 L479.5,181.17 L480,180.81 L480.5,180.42 L481,179.99 L481.5,179.52 L482,179.01 L482.5,178.46 L483,177.86 L483.5,177.22 L484,176.53 L484.5,175.8 L485,175.01 L485.5,174.18 L486,173.3 L486.5,172.36 L487,171.38 L487.5,170.35 L488,169.27 L488.5,168.15 L489,166.98 L489.5,165.77 L490,164.53 L490.5,163.24 L491,161.93 L491.5,160.59 L492,159.22 L492.5,157.84 L493,156.44 L493.5,155.05 L494,153.65 L494.5,152.25 L495,150.88 L495.5,149.52 L496,148.19 L496.5,146.9 L497,145.65 L497.5,144.45 L498,143.31 L498.5,142.23 L499,141.22 L499.5,140.29 L500,139.45 L500.5,138.7 L501,138.04 L501.5,137.49 L502,137.04 L502.5,136.7 L503,136.47 L503.5,136.35 L504,136.35 L504.5,136.49 L505,136.81 L505.5,137.31 L506,137.98 L506.5,138.82 L507,139.81 L507.5,140.95 L508,142.23 L508.5,143.62 L509,145.13 L509.5,146.73 L510,148.41 L510.5,150.16 L511,151.95 L511.5,153.78 L512,155.64 L512.5,157.5 L513,159.35 L513.5,161.19 L514,162.99 L514.5,164.75 L515,166.47 L515.5,168.12 L516,169.71 L516.5,171.23 L517,172.67 L517.5,174.03 L518,175.32 L518.5,176.51 L519,177.63 L519.5,178.66 L520,179.61 L520.5,180.48 L521,181.28 L521.5,182.01 L522,182.67 L522.5,183.27 L523,183.8 L523.5,184.28 L524,184.71 L524.5,185.1 L525,185.44 L525.5,185.73 L526,186 L526.5,186.23 L527,186.43 L527.5,186.6 L528,186.76 L528.5,186.89 L529,187 L529.5,187.1 L530,187.18 L530.5,187.26" fill="none" stroke="#3aa89a" stroke-width="1"/>
<path d="M400,179.7 L400.5,179.69 L401,179.68 L401.5,179.68 L402,179.68 L402.5,179.67 L403,179.67 L403.5,179.67 L404,179.66 L404.5,179.66 L405,179.66 L405.5,179.66 L406,179.66 L406.5,179.66 L407,179.65 L407.5,179.65 L408,179.65 L408.5,179.65 L409,179.65 L409.5,179.65 L410,179.65 L410.5,179.65 L411,179.66 L411.5,179.66 L412,179.66 L412.5,179.66 L413,179.66 L413.5,179.66 L414,179.65 L414.5,179.65 L415,179.65 L415.5,179.65 L416,179.65 L416.5,179.64 L417,179.64 L417.5,179.63 L418,179.62 L418.5,179.61 L419,179.6 L419.5,179.58 L420,179.56 L420.5,179.54 L421,179.5 L421.5,179.47 L422,179.42 L422.5,179.36 L423,179.29 L423.5,179.2 L424,179.09 L424.5,178.96 L425,178.8 L425.5,178.6 L426,178.37 L426.5,178.08 L427,177.74 L427.5,177.34 L428,176.86 L428.5,176.29 L429,175.62 L429.5,174.84 L430,173.93 L430.5,172.88 L431,171.67 L431.5,170.28 L432,168.71 L432.5,166.92 L433,164.91 L433.5,162.66 L434,160.15 L434.5,157.38 L435,154.33 L435.5,151 L436,147.38 L436.5,143.48 L437,139.3 L437.5,134.86 L438,130.17 L438.5,125.25 L439,120.13 L439.5,114.84 L440,109.43 L440.5,103.95 L441,98.43 L441.5,92.95 L442,87.55 L442.5,82.31 L443,77.28 L443.5,72.53 L444,68.13 L444.5,64.15 L445,60.65 L445.5,57.67 L446,55.28 L446.5,53.52 L447,52.41 L447.5,51.99 L448,52.17 L448.5,52.82 L449,53.91 L449.5,55.44 L450,57.38 L450.5,59.72 L451,62.43 L451.5,65.47 L452,68.83 L452.5,72.46 L453,76.34 L453.5,80.41 L454,84.66 L454.5,89.03 L455,93.51 L455.5,98.05 L456,102.62 L456.5,107.18 L457,111.72 L457.5,116.2 L458,120.6 L458.5,124.89 L459,129.06 L459.5,133.09 L460,136.97 L460.5,140.67 L461,144.2 L461.5,147.55 L462,150.71 L462.5,153.68 L463,156.45 L463.5,159.04 L464,161.45 L464.5,163.67 L465,165.72 L465.5,167.59 L466,169.31 L466.5,170.87 L467,172.29 L467.5,173.57 L468,174.73 L468.5,175.77 L469,176.7 L469.5,177.53 L470,178.27 L470.5,178.93 L471,179.51 L471.5,180.02 L472,180.48 L472.5,180.88 L473,181.23 L473.5,181.54 L474,181.81 L474.5,182.05 L475,182.26 L475.5,182.44 L476,182.61 L476.5,182.75 L477,182.88 L477.5,182.99 L478,183.09 L478.5,183.18 L479,183.26 L479.5,183.34 L480,183.4 L480.5,183.47 L481,183.52 L481.5,183.58 L482,183.63 L482.5,183.67 L483,183.72 L483.5,183.76 L484,183.8 L484.5,183.84 L485,183.88 L485.5,183.92 L486,183.95 L486.5,183.99 L487,184.03 L487.5,184.06 L488,184.09 L488.5,184.13 L489,184.16 L489.5,184.2 L490,184.23 L490.5,184.26 L491,184.3 L491.5,184.33 L492,184.36 L492.5,184.4 L493,184.43 L493.5,184.46 L494,184.5 L494.5,184.53 L495,184.56 L495.5,184.6 L496,184.63 L496.5,184.67 L497,184.7 L497.5,184.74 L498,184.78 L498.5,184.81 L499,184.85 L499.5,184.89 L500,184.92 L500.5,184.96 L501,185.01 L501.5,185.05 L502,185.1 L502.5,185.15 L503,185.21 L503.5,185.26 L504,185.32 L504.5,185.38 L505,185.44 L505.5,185.5 L506,185.57" fill="none" stroke="#a0a070" stroke-width="0.8"/>
<path d="M488,184.36 L488.5,184.3 L489,184.22 L489.5,184.12 L490,184 L490.5,183.85 L491,183.67 L491.5,183.45 L492,183.2 L492.5,182.89 L493,182.53 L493.5,182.11 L494,181.62 L494.5,181.04 L495,180.38 L495.5,179.62 L496,178.75 L496.5,177.76 L497,176.64 L497.5,175.37 L498,173.95 L498.5,172.36 L499,170.6 L499.5,168.64 L500,166.48 L500.5,164.11 L501,161.52 L501.5,158.71 L502,155.67 L502.5,152.4 L503,148.89 L503.5,145.16 L504,141.19 L504.5,137.01 L505,132.61 L505.5,128.02 L506,123.26 L506.5,118.33 L507,113.28 L507.5,108.12 L508,102.89 L508.5,97.63 L509,92.36 L509.5,87.14 L510,82 L510.5,76.98 L511,72.13 L511.5,67.49 L512,63.1 L512.5,59.01 L513,55.26 L513.5,51.89 L514,48.92 L514.5,46.4 L515,44.35 L515.5,42.78 L516,41.72 L516.5,41.19 L517,41.18 L517.5,41.8 L518,43.06 L518.5,44.93 L519,47.41 L519.5,50.44 L520,54 L520.5,58.04 L521,62.52 L521.5,67.38 L522,72.56 L522.5,78 L523,83.65 L523.5,89.44 L524,95.32 L524.5,101.24 L525,107.13 L525.5,112.96 L526,118.66 L526.5,124.22 L527,129.58 L527.5,134.73 L528,139.64 L528.5,144.28 L529,148.65 L529.5,152.73 L530,156.52 L530.5,160.03 L531,163.25 L531.5,166.19 L532,168.86 L532.5,171.27 L533,173.43 L533.5,175.37 L534,177.09 L534.5,178.61 L535,179.95 L535.5,181.12 L536,182.13 L536.5,183.02 L537,183.78 L537.5,184.43 L538,184.99 L538.5,185.46 L539,185.86 L539.5,186.2 L540,186.48 L540.5,186.72 L541,186.91 L541.5,187.08 L542,187.21 L542.5,187.32 L543,187.41" fill="none" stroke="#3aa89a" stroke-width="0.9"/>
<path d="M391.5,179.7 L392,179.69 L392.5,179.69 L393,179.68 L393.5,179.67 L394,179.67 L394.5,179.66 L395,179.65 L395.5,179.64 L396,179.64 L396.5,179.63 L397,179.62 L397.5,179.61 L398,179.6 L398.5,179.59 L399,179.58 L399.5,179.57 L400,179.56 L400.5,179.55 L401,179.54 L401.5,179.53 L402,179.51 L402.5,179.5 L403,179.48 L403.5,179.47 L404,179.45 L404.5,179.43 L405,179.41 L405.5,179.38 L406,179.35 L406.5,179.32 L407,179.28 L407.5,179.23 L408,179.17 L408.5,179.11 L409,179.04 L409.5,178.95 L410,178.86 L410.5,178.74 L411,178.61 L411.5,178.46 L412,178.29 L412.5,178.1 L413,177.88 L413.5,177.63 L414,177.35 L414.5,177.04 L415,176.68 L415.5,176.29 L416,175.86 L416.5,175.38 L417,174.85 L417.5,174.28 L418,173.65 L418.5,172.97 L419,172.24 L419.5,171.45 L420,170.6 L420.5,169.7 L421,168.74 L421.5,167.72 L422,166.66 L422.5,165.54 L423,164.37 L423.5,163.15 L424,161.89 L424.5,160.59 L425,159.25 L425.5,157.87 L426,156.46 L426.5,155.02 L427,153.54 L427.5,152.04 L428,150.51 L428.5,148.95 L429,147.35 L429.5,145.72 L430,144.04 L430.5,142.32 L431,140.53 L431.5,138.68 L432,136.76 L432.5,134.74 L433,132.62 L433.5,130.38 L434,128.01 L434.5,125.49 L435,122.81 L435.5,119.97 L436,116.94 L436.5,113.74 L437,110.34 L437.5,106.77 L438,103.02 L438.5,99.1 L439,95.05 L439.5,90.87 L440,86.6 L440.5,82.27 L441,77.94 L441.5,73.64 L442,69.42 L442.5,65.34 L443,61.46 L443.5,57.83 L444,54.53 L444.5,51.6 L445,49.1 L445.5,47.09 L446,45.62 L446.5,44.73 L447,44.44 L447.5,44.77 L448,45.67 L448.5,46.97 L449,48.68 L449.5,50.76 L450,53.22 L450.5,56.02 L451,59.15 L451.5,62.58 L452,66.28 L452.5,70.22 L453,74.36 L453.5,78.68 L454,83.14 L454.5,87.71 L455,92.35 L455.5,97.03 L456,101.73 L456.5,106.4 L457,111.04 L457.5,115.6 L458,120.07 L458.5,124.42 L459,128.64 L459.5,132.72 L460,136.63 L460.5,140.36 L461,143.92 L461.5,147.29 L462,150.46 L462.5,153.45 L463,156.23 L463.5,158.83 L464,161.24 L464.5,163.47 L465,165.51 L465.5,167.39 L466,169.1 L466.5,170.66 L467,172.06 L467.5,173.33 L468,174.47 L468.5,175.49 L469,176.4 L469.5,177.2 L470,177.9 L470.5,178.52 L471,179.06 L471.5,179.52 L472,179.91 L472.5,180.24 L473,180.51 L473.5,180.72 L474,180.89 L474.5,181.01 L475,181.09 L475.5,181.12 L476,181.12 L476.5,181.07 L477,180.99 L477.5,180.87 L478,180.72 L478.5,180.52 L479,180.29 L479.5,180.02 L480,179.71 L480.5,179.36 L481,178.97 L481.5,178.53 L482,178.05 L482.5,177.53 L483,176.95 L483.5,176.33 L484,175.65 L484.5,174.92 L485,174.14 L485.5,173.3 L486,172.41 L486.5,171.46 L487,170.45 L487.5,169.38 L488,168.25 L488.5,167.06 L489,165.81 L489.5,164.5 L490,163.12 L490.5,161.68 L491,160.18 L491.5,158.61 L492,156.98 L492.5,155.28 L493,153.52 L493.5,151.68 L494,149.78 L494.5,147.8 L495,145.74 L495.5,143.61 L496,141.4 L496.5,139.1 L497,136.71 L497.5,134.22 L498,131.64 L498.5,128.95 L499,126.16 L499.5,123.25 L500,120.22 L500.5,117.07 L501,113.8 L501.5,110.4 L502,106.88 L502.5,103.23 L503,99.45 L503.5,95.55 L504,91.54 L504.5,87.45 L505,83.33 L505.5,79.18 L506,75.03 L506.5,70.89 L507,66.78 L507.5,62.7 L508,58.69 L508.5,54.76 L509,50.94 L509.5,47.26 L510,43.74 L510.5,40.41 L511,37.3 L511.5,34.43 L512,31.84 L512.5,29.56 L513,27.61 L513.5,26.02 L514,24.81 L514.5,24 L515,23.61 L515.5,23.65 L516,24.14 L516.5,25.08 L517,26.48 L517.5,28.43 L518,30.94 L518.5,33.99 L519,37.55 L519.5,41.6 L520,46.09 L520.5,50.99 L521,56.25 L521.5,61.83 L522,67.65 L522.5,73.68 L523,79.86 L523.5,86.12 L524,92.42 L524.5,98.71 L525,104.93 L525.5,111.04 L526,117.01 L526.5,122.78 L527,128.34 L527.5,133.65 L528,138.7 L528.5,143.47 L529,147.94 L529.5,152.12 L530,155.99 L530.5,159.56 L531,162.83 L531.5,165.82 L532,168.53 L532.5,170.97 L533,173.16 L533.5,175.12 L534,176.86 L534.5,178.4 L535,179.75 L535.5,180.93 L536,181.96 L536.5,182.85 L537,183.61 L537.5,184.27 L538,184.83 L538.5,185.31 L539,185.71 L539.5,186.05 L540,186.34 L540.5,186.58 L541,186.78 L541.5,186.94 L542,187.08 L542.5,187.19 L543,187.28 L543.5,187.36 L544,187.42" fill="none" stroke="#a2a640" stroke-width="1.1"/>
<path d="M333,180 L333.5,180 L334,180 L334.5,180 L335,180 L335.5,180 L336,180 L336.5,180 L337,180 L337.5,180 L338,180 L338.5,180 L339,180 L339.5,180 L340,180 L340.5,180 L341,180 L341.5,180 L342,180 L342.5,180 L343,180 L343.5,180 L344,180 L344.5,180 L345,180 L345.5,180 L346,180 L346.5,180 L347,180 L347.5,180 L348,180 L348.5,180 L349,180 L349.5,180 L350,180 L350.5,180 L351,180 L351.5,180 L352,180 L352.5,180 L353,180 L353.5,180 L354,180 L354.5,180 L355,180 L355.5,180 L356,180 L356.5,180 L357,180 L357.5,180 L358,180 L358.5,180 L359,180 L359.5,180 L360,180 L360.5,180 L361,180 L361.5,180 L362,180 L362.5,180 L363,180 L363.5,180 L364,180 L364.5,180 L365,180 L365.5,180 L366,180 L366.5,180 L367,180 L367.5,180 L368,180 L368.5,180 L369,180 L369.5,180 L370,180 L370.5,180 L371,180 L371.5,180 L372,180 L372.5,180 L373,180 L373.5,180 L374,180 L374.5,180 L375,180 L375.5,180 L376,180 L376.5,180 L377,180 L377.5,180 L378,180 L378.5,180 L379,180 L379.5,180 L380,180 L380.5,180 L381,180 L381.5,180 L382,180 L382.5,180 L383,180 L383.5,180 L384,180 L384.5,180 L385,180 L385.5,180 L386,180 L386.5,180 L387,180 L387.5,180 L388,180 L388.5,180 L389,180 L389.5,180 L390,180 L390.5,180 L391,180 L391.5,180 L392,180 L392.5,180 L393,180 L393.5,180 L394,180 L394.5,180 L395,180 L395.5,180 L396,180 L396.5,180 L397,180 L397.5,180 L398,180 L398.5,180 L399,180 L399.5,180 L400,180 L400.5,180 L401,180 L401.5,180 L402,180.01 L402.5,180.01 L403,180.01 L403.5,180.02 L404,180.02 L404.5,180.03 L405,180.04 L405.5,180.04 L406,180.05 L406.5,180.06 L407,180.07 L407.5,180.08 L408,180.09 L408.5,180.1 L409,180.11 L409.5,180.12 L410,180.13 L410.5,180.15 L411,180.16 L411.5,180.17 L412,180.19 L412.5,180.2 L413,180.22 L413.5,180.23 L414,180.25 L414.5,180.26 L415,180.28 L415.5,180.3 L416,180.32 L416.5,180.33 L417,180.35 L417.5,180.37 L418,180.39 L418.5,180.41 L419,180.43 L419.5,180.45 L420,180.47 L420.5,180.49 L421,180.51 L421.5,180.53 L422,180.55 L422.5,180.57 L423,180.59 L423.5,180.61 L424,180.63 L424.5,180.66 L425,180.68 L425.5,180.7 L426,180.72 L426.5,180.74 L427,180.77 L427.5,180.79 L428,180.81 L428.5,180.83 L429,180.86 L429.5,180.88 L430,180.9 L430.5,180.92 L431,180.95 L431.5,180.98 L432,181.01 L432.5,181.04 L433,181.07 L433.5,181.1 L434,181.14 L434.5,181.18 L435,181.22 L435.5,181.26 L436,181.3 L436.5,181.34 L437,181.38 L437.5,181.43 L438,181.48 L438.5,181.52 L439,181.57 L439.5,181.62 L440,181.67 L440.5,181.72 L441,181.77 L441.5,181.82 L442,181.88 L442.5,181.93 L443,181.98 L443.5,182.04 L444,182.09 L444.5,182.14 L445,182.2 L445.5,182.25 L446,182.31 L446.5,182.36 L447,182.42 L447.5,182.47 L448,182.53 L448.5,182.58 L449,182.63 L449.5,182.69 L450,182.74 L450.5,182.79 L451,182.84 L451.5,182.89 L452,182.94 L452.5,182.99 L453,183.04 L453.5,183.09 L454,183.14 L454.5,183.18 L455,183.23 L455.5,183.27 L456,183.31 L456.5,183.35 L457,183.39 L457.5,183.43 L458,183.47 L458.5,183.5 L459,183.54 L459.5,183.57 L460,183.6 L460.5,183.63 L461,183.66 L461.5,183.69 L462,183.71 L462.5,183.74 L463,183.77 L463.5,183.79 L464,183.82 L464.5,183.84 L465,183.86 L465.5,183.89 L466,183.91 L466.5,183.93 L467,183.95 L467.5,183.98 L468,184 L468.5,184.02 L469,184.04 L469.5,184.06 L470,184.08 L470.5,184.1 L471,184.12 L471.5,184.14 L472,184.16 L472.5,184.17 L473,184.19 L473.5,184.21 L474,184.23 L474.5,184.25 L475,184.26 L475.5,184.28 L476,184.3 L476.5,184.31 L477,184.33 L477.5,184.35 L478,184.36 L478.5,184.38 L479,184.4 L479.5,184.41 L480,184.43 L480.5,184.45 L481,184.46 L481.5,184.48 L482,184.5 L482.5,184.52 L483,184.53 L483.5,184.55 L484,184.57 L484.5,184.58 L485,184.6 L485.5,184.62 L486,184.64 L486.5,184.66 L487,184.68 L487.5,184.69 L488,184.71 L488.5,184.73 L489,184.75 L489.5,184.77 L490,184.79 L490.5,184.81 L491,184.84 L491.5,184.86 L492,184.88 L492.5,184.9 L493,184.92 L493.5,184.95 L494,184.97 L494.5,185 L495,185.02 L495.5,185.05 L496,185.07 L496.5,185.1 L497,185.12 L497.5,185.15 L498,185.18 L498.5,185.21 L499,185.24 L499.5,185.27 L500,185.3 L500.5,185.33 L501,185.37 L501.5,185.41 L502,185.45 L502.5,185.5 L503,185.54 L503.5,185.59 L504,185.65 L504.5,185.7 L505,185.76 L505.5,185.81 L506,185.87 L506.5,185.93 L507,186 L507.5,186.06 L508,186.12 L508.5,186.18 L509,186.25 L509.5,186.31 L510,186.37 L510.5,186.44 L511,186.5 L511.5,186.56 L512,186.62 L512.5,186.68 L513,186.74 L513.5,186.79 L514,186.85 L514.5,186.9 L515,186.95 L515.5,187 L516,187.05 L516.5,187.09 L517,187.13 L517.5,187.17 L518,187.2 L518.5,187.23 L519,187.26 L519.5,187.28 L520,187.3 L520.5,187.32 L521,187.33 L521.5,187.35 L522,187.36 L522.5,187.38 L523,187.39 L523.5,187.41 L524,187.42 L524.5,187.43 L525,187.44 L525.5,187.46 L526,187.47 L526.5,187.48 L527,187.49 L527.5,187.5 L528,187.51 L528.5,187.52 L529,187.53 L529.5,187.54 L530,187.55 L530.5,187.56 L531,187.57 L531.5,187.58 L532,187.58 L532.5,187.59 L533,187.6 L533.5,187.61 L534,187.62 L534.5,187.62 L535,187.63 L535.5,187.64 L536,187.65 L536.5,187.65 L537,187.66 L537.5,187.67 L538,187.67 L538.5,187.68 L539,187.69 L539.5,187.69 L540,187.7 L540.5,187.71 L541,187.71 L541.5,187.72 L542,187.73 L542.5,187.73 L543,187.74 L543.5,187.75 L544,187.75 L544.5,187.76 L545,187.77 L545.5,187.77 L546,187.78 L546.5,187.79 L547,187.79 L547.5,187.8 L548,187.81 L548.5,187.81 L549,187.82 L549.5,187.83 L550,187.83 L550.5,187.84 L551,187.85 L551.5,187.85 L552,187.86 L552.5,187.87 L553,187.87 L553.5,187.88 L554,187.88 L554.5,187.89 L555,187.9 L555.5,187.9 L556,187.91 L556.5,187.92 L557,187.92 L557.5,187.93 L558,187.93 L558.5,187.94 L559,187.94 L559.5,187.95 L560,187.96 L560.5,187.96 L561,187.97 L561.5,187.97 L562,187.98 L562.5,187.99 L563,187.99 L563.5,188 L564,188 L564.5,188.01 L565,188.01 L565.5,188.02 L566,188.02 L566.5,188.03 L567,188.03 L567.5,188.04 L568,188.04 L568.5,188.05 L569,188.05 L569.5,188.06 L570,188.06 L570.5,188.07 L571,188.07 L571.5,188.08 L572,188.08 L572.5,188.09 L573,188.09 L573.5,188.09 L574,188.1 L574.5,188.1 L575,188.11 L575.5,188.11 L576,188.12 L576.5,188.12 L577,188.12 L577.5,188.13 L578,188.13 L578.5,188.13 L579,188.14 L579.5,188.14 L580,188.14 L580.5,188.15 L581,188.15 L581.5,188.15 L582,188.16 L582.5,188.16 L583,188.16 L583.5,188.17 L584,188.17 L584.5,188.17 L585,188.17 L585.5,188.18 L586,188.18 L586.5,188.18 L587,188.18 L587.5,188.18 L588,188.19 L588.5,188.19 L589,188.19 L589.5,188.19 L590,188.19 L590.5,188.19 L591,188.2 L591.5,188.2 L592,188.2 L592.5,188.2 L593,188.2" fill="none" stroke="#8a7a48" stroke-width="1.1"/>
<path d="M333,181.8 L333.5,181.8 L334,181.8 L334.5,181.8 L335,181.8 L335.5,181.8 L336,181.8 L336.5,181.8 L337,181.8 L337.5,181.8 L338,181.8 L338.5,181.8 L339,181.81 L339.5,181.81 L340,181.81 L340.5,181.81 L341,181.81 L341.5,181.81 L342,181.81 L342.5,181.81 L343,181.81 L343.5,181.82 L344,181.82 L344.5,181.82 L345,181.82 L345.5,181.82 L346,181.82 L346.5,181.83 L347,181.83 L347.5,181.83 L348,181.83 L348.5,181.83 L349,181.83 L349.5,181.84 L350,181.84 L350.5,181.84 L351,181.84 L351.5,181.85 L352,181.85 L352.5,181.85 L353,181.85 L353.5,181.86 L354,181.86 L354.5,181.86 L355,181.86 L355.5,181.87 L356,181.87 L356.5,181.87 L357,181.88 L357.5,181.88 L358,181.88 L358.5,181.89 L359,181.89 L359.5,181.89 L360,181.9 L360.5,181.9 L361,181.9 L361.5,181.91 L362,181.91 L362.5,181.91 L363,181.92 L363.5,181.92 L364,181.92 L364.5,181.93 L365,181.93 L365.5,181.94 L366,181.94 L366.5,181.94 L367,181.95 L367.5,181.95 L368,181.96 L368.5,181.96 L369,181.96 L369.5,181.97 L370,181.97 L370.5,181.98 L371,181.98 L371.5,181.99 L372,181.99 L372.5,181.99 L373,182 L373.5,182 L374,182.01 L374.5,182.01 L375,182.02 L375.5,182.02 L376,182.03 L376.5,182.03 L377,182.04 L377.5,182.04 L378,182.05 L378.5,182.05 L379,182.06 L379.5,182.06 L380,182.07 L380.5,182.07 L381,182.08 L381.5,182.08 L382,182.09 L382.5,182.09 L383,182.1 L383.5,182.1 L384,182.11 L384.5,182.12 L385,182.12 L385.5,182.13 L386,182.13 L386.5,182.14 L387,182.14 L387.5,182.15 L388,182.15 L388.5,182.16 L389,182.17 L389.5,182.17 L390,182.18 L390.5,182.18 L391,182.19 L391.5,182.2 L392,182.2 L392.5,182.21 L393,182.21 L393.5,182.22 L394,182.23 L394.5,182.23 L395,182.24 L395.5,182.24 L396,182.25 L396.5,182.26 L397,182.26 L397.5,182.27 L398,182.27 L398.5,182.28 L399,182.29 L399.5,182.29 L400,182.3 L400.5,182.31 L401,182.31 L401.5,182.32 L402,182.33 L402.5,182.34 L403,182.34 L403.5,182.35 L404,182.36 L404.5,182.37 L405,182.38 L405.5,182.39 L406,182.4 L406.5,182.41 L407,182.42 L407.5,182.44 L408,182.45 L408.5,182.46 L409,182.47 L409.5,182.48 L410,182.5 L410.5,182.51 L411,182.52 L411.5,182.54 L412,182.55 L412.5,182.57 L413,182.58 L413.5,182.6 L414,182.61 L414.5,182.63 L415,182.64 L415.5,182.66 L416,182.68 L416.5,182.69 L417,182.71 L417.5,182.73 L418,182.74 L418.5,182.76 L419,182.78 L419.5,182.8 L420,182.82 L420.5,182.83 L421,182.85 L421.5,182.87 L422,182.89 L422.5,182.91 L423,182.93 L423.5,182.95 L424,182.97 L424.5,182.99 L425,183.01 L425.5,183.03 L426,183.05 L426.5,183.07 L427,183.09 L427.5,183.12 L428,183.14 L428.5,183.16 L429,183.18 L429.5,183.2 L430,183.22 L430.5,183.25 L431,183.27 L431.5,183.29 L432,183.31 L432.5,183.34 L433,183.36 L433.5,183.38 L434,183.41 L434.5,183.43 L435,183.45 L435.5,183.48 L436,183.5 L436.5,183.53 L437,183.55 L437.5,183.57 L438,183.6 L438.5,183.62 L439,183.65 L439.5,183.67 L440,183.7 L440.5,183.72 L441,183.74 L441.5,183.77 L442,183.79 L442.5,183.82 L443,183.84 L443.5,183.87 L444,183.89 L444.5,183.92 L445,183.94 L445.5,183.97 L446,183.99 L446.5,184.02 L447,184.04 L447.5,184.07 L448,184.1 L448.5,184.12 L449,184.15 L449.5,184.17 L450,184.2 L450.5,184.22 L451,184.25 L451.5,184.27 L452,184.3 L452.5,184.32 L453,184.35 L453.5,184.37 L454,184.4 L454.5,184.42 L455,184.45 L455.5,184.48 L456,184.5 L456.5,184.53 L457,184.55 L457.5,184.58 L458,184.6 L458.5,184.63 L459,184.65 L459.5,184.68 L460,184.7 L460.5,184.73 L461,184.75 L461.5,184.78 L462,184.8 L462.5,184.83 L463,184.86 L463.5,184.89 L464,184.92 L464.5,184.95 L465,184.98 L465.5,185.01 L466,185.04 L466.5,185.07 L467,185.1 L467.5,185.14 L468,185.17 L468.5,185.2 L469,185.24 L469.5,185.27 L470,185.31 L470.5,185.34 L471,185.38 L471.5,185.41 L472,185.45 L472.5,185.49 L473,185.53 L473.5,185.56 L474,185.6 L474.5,185.64 L475,185.68 L475.5,185.72 L476,185.76 L476.5,185.8 L477,185.84 L477.5,185.88 L478,185.92 L478.5,185.96 L479,186 L479.5,186.04 L480,186.08 L480.5,186.12 L481,186.16 L481.5,186.21 L482,186.25 L482.5,186.29 L483,186.33 L483.5,186.37 L484,186.42 L484.5,186.46 L485,186.5 L485.5,186.54 L486,186.59 L486.5,186.63 L487,186.67 L487.5,186.72 L488,186.76 L488.5,186.8 L489,186.84 L489.5,186.89 L490,186.93 L490.5,186.97 L491,187.02 L491.5,187.06 L492,187.1 L492.5,187.14 L493,187.19 L493.5,187.23 L494,187.27 L494.5,187.31 L495,187.36 L495.5,187.4 L496,187.44 L496.5,187.48 L497,187.52 L497.5,187.56 L498,187.6 L498.5,187.65 L499,187.69 L499.5,187.73 L500,187.77 L500.5,187.81 L501,187.85 L501.5,187.89 L502,187.92 L502.5,187.96 L503,188 L503.5,188.04 L504,188.08 L504.5,188.12 L505,188.15 L505.5,188.19 L506,188.23 L506.5,188.26 L507,188.3 L507.5,188.33 L508,188.37 L508.5,188.4 L509,188.43 L509.5,188.47 L510,188.5 L510.5,188.53 L511,188.56 L511.5,188.6 L512,188.63 L512.5,188.66 L513,188.69 L513.5,188.72 L514,188.75 L514.5,188.77 L515,188.8 L515.5,188.83 L516,188.85 L516.5,188.88 L517,188.9 L517.5,188.93 L518,188.95 L518.5,188.98 L519,189 L519.5,189.02 L520,189.04 L520.5,189.06 L521,189.08 L521.5,189.1 L522,189.12 L522.5,189.14 L523,189.15 L523.5,189.17 L524,189.18 L524.5,189.2 L525,189.21 L525.5,189.22 L526,189.24 L526.5,189.25 L527,189.26 L527.5,189.27 L528,189.28 L528.5,189.28 L529,189.29 L529.5,189.3 L530,189.3 L530.5,189.3 L531,189.31 L531.5,189.31 L532,189.32 L532.5,189.32 L533,189.33 L533.5,189.33 L534,189.33 L534.5,189.34 L535,189.34 L535.5,189.35 L536,189.35 L536.5,189.35 L537,189.36 L537.5,189.36 L538,189.37 L538.5,189.37 L539,189.37 L539.5,189.38 L540,189.38 L540.5,189.39 L541,189.39 L541.5,189.39 L542,189.4 L542.5,189.4 L543,189.4 L543.5,189.41 L544,189.41 L544.5,189.42 L545,189.42 L545.5,189.42 L546,189.43 L546.5,189.43 L547,189.43 L547.5,189.44 L548,189.44 L548.5,189.44 L549,189.45 L549.5,189.45 L550,189.45 L550.5,189.46 L551,189.46 L551.5,189.46 L552,189.47 L552.5,189.47 L553,189.47 L553.5,189.47 L554,189.48 L554.5,189.48 L555,189.48 L555.5,189.49 L556,189.49 L556.5,189.49 L557,189.5 L557.5,189.5 L558,189.5 L558.5,189.5 L559,189.51 L559.5,189.51 L560,189.51 L560.5,189.51 L561,189.52 L561.5,189.52 L562,189.52 L562.5,189.52 L563,189.53 L563.5,189.53 L564,189.53 L564.5,189.53 L565,189.54 L565.5,189.54 L566,189.54 L566.5,189.54 L567,189.54 L567.5,189.55 L568,189.55 L568.5,189.55 L569,189.55 L569.5,189.55 L570,189.56 L570.5,189.56 L571,189.56 L571.5,189.56 L572,189.56 L572.5,189.56 L573,189.57 L573.5,189.57 L574,189.57 L574.5,189.57 L575,189.57 L575.5,189.57 L576,189.58 L576.5,189.58 L577,189.58 L577.5,189.58 L578,189.58 L578.5,189.58 L579,189.58 L579.5,189.58 L580,189.59 L580.5,189.59 L581,189.59 L581.5,189.59 L582,189.59 L582.5,189.59 L583,189.59 L583.5,189.59 L584,189.59 L584.5,189.59 L585,189.59 L585.5,189.6 L586,189.6 L586.5,189.6 L587,189.6 L587.5,189.6 L588,189.6 L588.5,189.6 L589,189.6 L589.5,189.6 L590,189.6 L590.5,189.6 L591,189.6 L591.5,189.6 L592,189.6 L592.5,189.6 L593,189.6" fill="none" stroke="#b8a868" stroke-width="1"/>

<rect x="332.9" y="2.4" width="260.6" height="209.8" fill="none" stroke="#111" stroke-width="1.35"/>
<g fill="none" stroke="#f5280a" stroke-width="1.05"><circle cx="333.2" cy="179.05" r="1.75"/><circle cx="334.13" cy="174.47" r="1.75"/><circle cx="335.06" cy="177.47" r="1.75"/><circle cx="335.99" cy="176.51" r="1.75"/><circle cx="336.92" cy="176.65" r="1.75"/><circle cx="337.85" cy="176.92" r="1.75"/><circle cx="338.78" cy="175.14" r="1.75"/><circle cx="339.71" cy="176.96" r="1.75"/><circle cx="340.64" cy="176.36" r="1.75"/><circle cx="341.57" cy="180.58" r="1.75"/><circle cx="342.5" cy="177.52" r="1.75"/><circle cx="343.43" cy="176.97" r="1.75"/><circle cx="344.36" cy="177.08" r="1.75"/><circle cx="345.29" cy="176.74" r="1.75"/><circle cx="346.22" cy="176.39" r="1.75"/><circle cx="347.15" cy="177.09" r="1.75"/><circle cx="348.08" cy="178" r="1.75"/><circle cx="349.01" cy="177.32" r="1.75"/><circle cx="349.94" cy="178.56" r="1.75"/><circle cx="350.87" cy="177.44" r="1.75"/><circle cx="351.8" cy="177.71" r="1.75"/><circle cx="352.73" cy="179.28" r="1.75"/><circle cx="353.66" cy="178.33" r="1.75"/><circle cx="354.59" cy="177.32" r="1.75"/><circle cx="355.52" cy="177.69" r="1.75"/><circle cx="356.45" cy="178.46" r="1.75"/><circle cx="357.38" cy="179.89" r="1.75"/><circle cx="358.31" cy="177.71" r="1.75"/><circle cx="359.24" cy="177.75" r="1.75"/><circle cx="360.17" cy="179" r="1.75"/><circle cx="361.1" cy="177.1" r="1.75"/><circle cx="362.03" cy="177.67" r="1.75"/><circle cx="362.96" cy="178.81" r="1.75"/><circle cx="363.89" cy="178.46" r="1.75"/><circle cx="364.82" cy="177.91" r="1.75"/><circle cx="365.75" cy="178.43" r="1.75"/><circle cx="366.68" cy="174.87" r="1.75"/><circle cx="367.61" cy="178.65" r="1.75"/><circle cx="368.54" cy="176.6" r="1.75"/><circle cx="369.47" cy="175.8" r="1.75"/><circle cx="370.4" cy="177.64" r="1.75"/><circle cx="371.33" cy="177.95" r="1.75"/><circle cx="372.26" cy="176.69" r="1.75"/><circle cx="373.19" cy="175.94" r="1.75"/><circle cx="374.12" cy="176.92" r="1.75"/><circle cx="375.05" cy="176.74" r="1.75"/><circle cx="375.98" cy="178.1" r="1.75"/><circle cx="376.91" cy="177.35" r="1.75"/><circle cx="377.84" cy="176.7" r="1.75"/><circle cx="378.77" cy="177.52" r="1.75"/><circle cx="379.7" cy="176.11" r="1.75"/><circle cx="380.63" cy="175.3" r="1.75"/><circle cx="381.56" cy="176.72" r="1.75"/><circle cx="382.49" cy="176.63" r="1.75"/><circle cx="383.42" cy="175.75" r="1.75"/><circle cx="384.35" cy="175.09" r="1.75"/><circle cx="385.28" cy="176.02" r="1.75"/><circle cx="386.21" cy="173.22" r="1.75"/><circle cx="387.14" cy="176.32" r="1.75"/><circle cx="388.07" cy="176.04" r="1.75"/><circle cx="389" cy="173.84" r="1.75"/><circle cx="389.93" cy="175.47" r="1.75"/><circle cx="390.86" cy="174.38" r="1.75"/><circle cx="391.79" cy="176.04" r="1.75"/><circle cx="392.72" cy="173.2" r="1.75"/><circle cx="393.65" cy="174.26" r="1.75"/><circle cx="394.58" cy="175.82" r="1.75"/><circle cx="395.51" cy="176.2" r="1.75"/><circle cx="396.44" cy="172.8" r="1.75"/><circle cx="397.37" cy="174.35" r="1.75"/><circle cx="398.3" cy="175.04" r="1.75"/><circle cx="399.23" cy="173.95" r="1.75"/><circle cx="400.16" cy="175.94" r="1.75"/><circle cx="401.09" cy="172.93" r="1.75"/><circle cx="402.02" cy="174.09" r="1.75"/><circle cx="402.95" cy="172.32" r="1.75"/><circle cx="403.88" cy="174.27" r="1.75"/><circle cx="404.81" cy="172.46" r="1.75"/><circle cx="405.74" cy="171.73" r="1.75"/><circle cx="406.67" cy="170.08" r="1.75"/><circle cx="407.6" cy="173.11" r="1.75"/><circle cx="408.53" cy="171.9" r="1.75"/><circle cx="409.46" cy="171.61" r="1.75"/><circle cx="410.39" cy="171.69" r="1.75"/><circle cx="411.32" cy="170.59" r="1.75"/><circle cx="412.25" cy="169.28" r="1.75"/><circle cx="413.18" cy="168.77" r="1.75"/><circle cx="414.11" cy="168.41" r="1.75"/><circle cx="415.04" cy="170.12" r="1.75"/><circle cx="415.97" cy="166.96" r="1.75"/><circle cx="416.9" cy="167.29" r="1.75"/><circle cx="417.83" cy="166.98" r="1.75"/><circle cx="418.76" cy="166.78" r="1.75"/><circle cx="419.69" cy="166.27" r="1.75"/><circle cx="420.62" cy="163.75" r="1.75"/><circle cx="421.55" cy="162.28" r="1.75"/><circle cx="422.48" cy="161.88" r="1.75"/><circle cx="423.41" cy="161.12" r="1.75"/><circle cx="424.34" cy="159.24" r="1.75"/><circle cx="425.27" cy="157.24" r="1.75"/><circle cx="426.2" cy="155.13" r="1.75"/><circle cx="427.13" cy="153.57" r="1.75"/><circle cx="428.06" cy="150.98" r="1.75"/><circle cx="428.99" cy="148.97" r="1.75"/><circle cx="429.92" cy="145.45" r="1.75"/><circle cx="430.85" cy="142.27" r="1.75"/><circle cx="431.78" cy="137.39" r="1.75"/><circle cx="432.71" cy="133.6" r="1.75"/><circle cx="433.64" cy="128.15" r="1.75"/><circle cx="434.57" cy="123.67" r="1.75"/><circle cx="435.5" cy="118.24" r="1.75"/><circle cx="436.43" cy="112.82" r="1.75"/><circle cx="437.36" cy="106.42" r="1.75"/><circle cx="438.29" cy="100.91" r="1.75"/><circle cx="439.22" cy="93.57" r="1.75"/><circle cx="440.15" cy="84.31" r="1.75"/><circle cx="441.08" cy="77.82" r="1.75"/><circle cx="442.01" cy="74.12" r="1.75"/><circle cx="442.94" cy="68.66" r="1.75"/><circle cx="443.87" cy="61.95" r="1.75"/><circle cx="444.8" cy="55.42" r="1.75"/><circle cx="445.73" cy="49.29" r="1.75"/><circle cx="446.66" cy="44.74" r="1.75"/><circle cx="447.59" cy="41.14" r="1.75"/><circle cx="448.52" cy="42.77" r="1.75"/><circle cx="449.45" cy="45.7" r="1.75"/><circle cx="450.38" cy="52.08" r="1.75"/><circle cx="451.31" cy="59.44" r="1.75"/><circle cx="452.24" cy="67.68" r="1.75"/><circle cx="453.17" cy="79.89" r="1.75"/><circle cx="454.1" cy="90.38" r="1.75"/><circle cx="455.03" cy="98.02" r="1.75"/><circle cx="455.96" cy="104.93" r="1.75"/><circle cx="456.89" cy="112.34" r="1.75"/><circle cx="457.82" cy="120.73" r="1.75"/><circle cx="458.75" cy="126.79" r="1.75"/><circle cx="459.68" cy="133.93" r="1.75"/><circle cx="460.61" cy="139.9" r="1.75"/><circle cx="461.54" cy="144.9" r="1.75"/><circle cx="462.47" cy="148.3" r="1.75"/><circle cx="463.4" cy="151.54" r="1.75"/><circle cx="464.33" cy="155.32" r="1.75"/><circle cx="465.26" cy="159.16" r="1.75"/><circle cx="466.19" cy="160.09" r="1.75"/><circle cx="467.12" cy="161.86" r="1.75"/><circle cx="468.05" cy="163.06" r="1.75"/><circle cx="468.98" cy="164.15" r="1.75"/><circle cx="469.91" cy="166.69" r="1.75"/><circle cx="470.84" cy="167.86" r="1.75"/><circle cx="471.77" cy="167.84" r="1.75"/><circle cx="472.7" cy="168.7" r="1.75"/><circle cx="473.63" cy="168.87" r="1.75"/><circle cx="474.56" cy="169.22" r="1.75"/><circle cx="475.49" cy="167.84" r="1.75"/><circle cx="476.42" cy="169.08" r="1.75"/><circle cx="477.35" cy="169.71" r="1.75"/><circle cx="478.28" cy="168.73" r="1.75"/><circle cx="479.21" cy="168.83" r="1.75"/><circle cx="480.14" cy="168.21" r="1.75"/><circle cx="481.07" cy="168.36" r="1.75"/><circle cx="482" cy="169.13" r="1.75"/><circle cx="482.93" cy="167.42" r="1.75"/><circle cx="483.86" cy="167.04" r="1.75"/><circle cx="484.79" cy="167.23" r="1.75"/><circle cx="485.72" cy="166.3" r="1.75"/><circle cx="486.65" cy="166.22" r="1.75"/><circle cx="487.58" cy="162" r="1.75"/><circle cx="488.51" cy="163.23" r="1.75"/><circle cx="489.44" cy="160.96" r="1.75"/><circle cx="490.37" cy="160.25" r="1.75"/><circle cx="491.3" cy="159.51" r="1.75"/><circle cx="492.23" cy="158.27" r="1.75"/><circle cx="493.16" cy="156.72" r="1.75"/><circle cx="494.09" cy="154.45" r="1.75"/><circle cx="495.02" cy="153.43" r="1.75"/><circle cx="495.95" cy="149.9" r="1.75"/><circle cx="496.88" cy="146.69" r="1.75"/><circle cx="497.81" cy="143.06" r="1.75"/><circle cx="498.74" cy="137.65" r="1.75"/><circle cx="499.67" cy="133.18" r="1.75"/><circle cx="500.6" cy="127.48" r="1.75"/><circle cx="501.53" cy="123.2" r="1.75"/><circle cx="502.46" cy="118.21" r="1.75"/><circle cx="503.39" cy="113.15" r="1.75"/><circle cx="504.32" cy="107.31" r="1.75"/><circle cx="505.25" cy="101.08" r="1.75"/><circle cx="506.18" cy="93.97" r="1.75"/><circle cx="507.11" cy="85.97" r="1.75"/><circle cx="508.04" cy="76.58" r="1.75"/><circle cx="508.97" cy="67.16" r="1.75"/><circle cx="509.9" cy="57.04" r="1.75"/><circle cx="510.83" cy="47.9" r="1.75"/><circle cx="511.76" cy="38.75" r="1.75"/><circle cx="512.69" cy="32.26" r="1.75"/><circle cx="513.62" cy="27.11" r="1.75"/><circle cx="514.55" cy="21.73" r="1.75"/><circle cx="515.48" cy="17.87" r="1.75"/><circle cx="516.41" cy="17.62" r="1.75"/><circle cx="517.34" cy="20.22" r="1.75"/><circle cx="518.27" cy="25.89" r="1.75"/><circle cx="519.2" cy="32.4" r="1.75"/><circle cx="520.13" cy="39.18" r="1.75"/><circle cx="521.06" cy="48.61" r="1.75"/><circle cx="521.99" cy="57.62" r="1.75"/><circle cx="522.92" cy="67.89" r="1.75"/><circle cx="523.85" cy="80.25" r="1.75"/><circle cx="524.78" cy="91.89" r="1.75"/><circle cx="525.71" cy="105.59" r="1.75"/><circle cx="526.64" cy="117.46" r="1.75"/><circle cx="527.57" cy="127.5" r="1.75"/><circle cx="528.5" cy="135.04" r="1.75"/><circle cx="529.43" cy="141.58" r="1.75"/><circle cx="530.36" cy="148.67" r="1.75"/><circle cx="531.29" cy="153.33" r="1.75"/><circle cx="532.22" cy="157.5" r="1.75"/><circle cx="533.15" cy="161.04" r="1.75"/><circle cx="534.08" cy="163.99" r="1.75"/><circle cx="535.01" cy="166.69" r="1.75"/><circle cx="535.94" cy="168.93" r="1.75"/><circle cx="536.87" cy="171.7" r="1.75"/><circle cx="537.8" cy="172.31" r="1.75"/><circle cx="538.73" cy="175.28" r="1.75"/><circle cx="539.66" cy="175.88" r="1.75"/><circle cx="540.59" cy="178.93" r="1.75"/><circle cx="541.52" cy="180.05" r="1.75"/><circle cx="542.45" cy="177.8" r="1.75"/><circle cx="543.38" cy="180.34" r="1.75"/><circle cx="544.31" cy="180.57" r="1.75"/><circle cx="545.24" cy="180.07" r="1.75"/><circle cx="546.17" cy="181.95" r="1.75"/><circle cx="547.1" cy="181.25" r="1.75"/><circle cx="548.03" cy="180.21" r="1.75"/><circle cx="548.96" cy="181.94" r="1.75"/><circle cx="549.89" cy="182.32" r="1.75"/><circle cx="550.82" cy="182.86" r="1.75"/><circle cx="551.75" cy="181.83" r="1.75"/><circle cx="552.68" cy="183.94" r="1.75"/><circle cx="553.61" cy="184.34" r="1.75"/><circle cx="554.54" cy="182.75" r="1.75"/><circle cx="555.47" cy="183.47" r="1.75"/><circle cx="556.4" cy="184.27" r="1.75"/><circle cx="557.33" cy="184.01" r="1.75"/><circle cx="558.26" cy="186.51" r="1.75"/><circle cx="559.19" cy="185.19" r="1.75"/><circle cx="560.12" cy="184.16" r="1.75"/><circle cx="561.05" cy="184.56" r="1.75"/><circle cx="561.98" cy="185.44" r="1.75"/><circle cx="562.91" cy="187.92" r="1.75"/><circle cx="563.84" cy="185.59" r="1.75"/><circle cx="564.77" cy="186.01" r="1.75"/><circle cx="565.7" cy="186.5" r="1.75"/><circle cx="566.63" cy="186.05" r="1.75"/><circle cx="567.56" cy="188.48" r="1.75"/><circle cx="568.49" cy="185.78" r="1.75"/><circle cx="569.42" cy="187.17" r="1.75"/><circle cx="570.35" cy="186.71" r="1.75"/><circle cx="571.28" cy="187.31" r="1.75"/><circle cx="572.21" cy="185.67" r="1.75"/><circle cx="573.14" cy="188.76" r="1.75"/><circle cx="574.07" cy="187.04" r="1.75"/><circle cx="575" cy="187.36" r="1.75"/><circle cx="575.93" cy="186.55" r="1.75"/><circle cx="576.86" cy="186.9" r="1.75"/><circle cx="577.79" cy="188.33" r="1.75"/><circle cx="578.72" cy="188.86" r="1.75"/><circle cx="579.65" cy="188.72" r="1.75"/><circle cx="580.58" cy="189.25" r="1.75"/><circle cx="581.51" cy="188.82" r="1.75"/><circle cx="582.44" cy="188.2" r="1.75"/><circle cx="583.37" cy="189.06" r="1.75"/><circle cx="584.3" cy="188.87" r="1.75"/><circle cx="585.23" cy="188.22" r="1.75"/><circle cx="586.16" cy="189.09" r="1.75"/><circle cx="587.09" cy="189.69" r="1.75"/><circle cx="588.02" cy="188.68" r="1.75"/><circle cx="588.95" cy="188.12" r="1.75"/><circle cx="589.88" cy="189.22" r="1.75"/><circle cx="590.81" cy="190.42" r="1.75"/><circle cx="591.74" cy="188.33" r="1.75"/><circle cx="592.67" cy="188.47" r="1.75"/><circle cx="593.6" cy="188.44" r="1.75"/><circle cx="594.53" cy="189.81" r="1.75"/><circle cx="595.46" cy="186.76" r="1.75"/></g>
<g stroke="#111" stroke-width="1.2"><line x1="593" y1="212.2" x2="593" y2="215.6"/><line x1="574.4" y1="212.2" x2="574.4" y2="214.2"/><line x1="555.8" y1="212.2" x2="555.8" y2="215.6"/><line x1="537.2" y1="212.2" x2="537.2" y2="214.2"/><line x1="518.6" y1="212.2" x2="518.6" y2="215.6"/><line x1="500" y1="212.2" x2="500" y2="214.2"/><line x1="481.4" y1="212.2" x2="481.4" y2="215.6"/><line x1="462.8" y1="212.2" x2="462.8" y2="214.2"/><line x1="444.2" y1="212.2" x2="444.2" y2="215.6"/><line x1="425.6" y1="212.2" x2="425.6" y2="214.2"/><line x1="407" y1="212.2" x2="407" y2="215.6"/><line x1="388.4" y1="212.2" x2="388.4" y2="214.2"/><line x1="369.8" y1="212.2" x2="369.8" y2="215.6"/><line x1="351.2" y1="212.2" x2="351.2" y2="214.2"/><line x1="332.6" y1="212.2" x2="332.6" y2="215.6"/></g>
<g font-size="10.3" font-weight="bold" text-anchor="middle" fill="#111"><text x="593" y="226.5">80</text><text x="555.8" y="226.5">82</text><text x="518.6" y="226.5">84</text><text x="481.4" y="226.5">86</text><text x="444.2" y="226.5">88</text><text x="407" y="226.5">90</text><text x="369.8" y="226.5">92</text><text x="332.6" y="226.5">94</text></g>
<text x="462.9" y="242.9" font-size="12.8" font-weight="bold" text-anchor="middle" fill="#111">Binding Energy (eV)</text>
<text transform="translate(309.6,115.7) rotate(-90)" font-size="13" font-weight="bold" text-anchor="middle" fill="#111">Intensity (a.u.)</text>
<!-- arrows -->
<line x1="478.9" y1="60.4" x2="452.57" y2="98.63" stroke="#111" stroke-width="1.3"/><polygon fill="#111" points="448.6,104.4 451.43,94.82 452.57,98.63 456.54,98.33"/><line x1="478.9" y1="60.4" x2="507.95" y2="98.44" stroke="#111" stroke-width="1.3"/><polygon fill="#111" points="512.2,104 503.97,98.33 507.95,98.44 508.9,94.57"/><line x1="477" y1="127.3" x2="442.71" y2="159.42" stroke="#111" stroke-width="1.3"/><polygon fill="#111" points="437.6,164.2 442.41,155.44 442.71,159.42 446.65,159.97"/><line x1="477" y1="127.3" x2="496.94" y2="151.41" stroke="#111" stroke-width="1.3"/><polygon fill="#111" points="501.4,156.8 492.96,151.46 496.94,151.41 497.73,147.5"/>
<g fill="#111">
<text x="469.8" y="58.9" font-size="13.8" textLength="14.9" lengthAdjust="spacingAndGlyphs" stroke="#111" stroke-width="0.25">Au</text>
<text x="486" y="54.4" font-size="9.4" stroke="#111" stroke-width="0.15">0</text>
<text x="468.4" y="126" font-size="13.8" textLength="14.9" lengthAdjust="spacingAndGlyphs" stroke="#111" stroke-width="0.25">Au</text>
<text x="484.2" y="120.8" font-size="9.4" stroke="#111" stroke-width="0.15">+1</text>
</g>
</svg>
</body></html>
